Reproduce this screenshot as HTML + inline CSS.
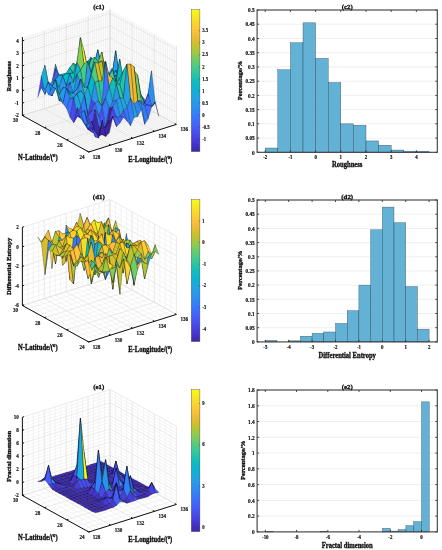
<!DOCTYPE html>
<html><head><meta charset="utf-8"><title>Figure</title><style>html,body{margin:0;padding:0;background:#fff}svg{display:block}</style></head><body><svg width="442" height="550" viewBox="0 0 442 550" font-family="Liberation Serif, serif" font-weight="bold" fill="#111"><style>text{stroke:#111;stroke-width:0.18px}.b text{stroke-width:0.32px}</style><polygon points="22.4,115.5 22.4,37.2 110,9.6 110,87.9" fill="#fff"/>
<polygon points="110,87.9 110,9.6 176.4,46.1 176.4,124.4" fill="#fff"/>
<polygon points="22.4,115.5 88.8,152 176.4,124.4 110,87.9" fill="#fff"/>
<path d="M22.4 115.5L22.4 37.2M22.4 115.5L88.8 152M24.6 114.8L24.6 36.5M24.6 114.8L91 151.3M26.8 114.1L26.8 35.8M26.8 114.1L93.2 150.6M28.9 113.5L28.9 35.2M28.9 113.5L95.4 149.9M31.1 112.8L31.1 34.5M31.1 112.8L97.6 149.2M33.3 112.1L33.3 33.8M33.3 112.1L99.7 148.6M35.5 111.4L35.5 33.1M35.5 111.4L101.9 147.9M37.7 110.7L37.7 32.4M37.7 110.7L104.1 147.2M39.9 110L39.9 31.7M39.9 110L106.3 146.5M42.1 109.3L42.1 31M42.1 109.3L108.5 145.8M44.3 108.6L44.3 30.3M44.3 108.6L110.7 145.1M46.5 107.9L46.5 29.6M46.5 107.9L112.9 144.4M48.7 107.2L48.7 28.9M48.7 107.2L115.1 143.7M50.8 106.6L50.8 28.3M50.8 106.6L117.3 143M53 105.9L53 27.6M53 105.9L119.5 142.3M55.2 105.2L55.2 26.9M55.2 105.2L121.6 141.7M57.4 104.5L57.4 26.2M57.4 104.5L123.8 141M59.6 103.8L59.6 25.5M59.6 103.8L126 140.3M61.8 103.1L61.8 24.8M61.8 103.1L128.2 139.6M64 102.4L64 24.1M64 102.4L130.4 138.9M66.2 101.7L66.2 23.4M66.2 101.7L132.6 138.2M68.4 101L68.4 22.7M68.4 101L134.8 137.5M70.6 100.3L70.6 22M70.6 100.3L137 136.8M72.7 99.7L72.7 21.4M72.7 99.7L139.2 136.1M74.9 99L74.9 20.7M74.9 99L141.4 135.4M77.1 98.3L77.1 20M77.1 98.3L143.5 134.8M79.3 97.6L79.3 19.3M79.3 97.6L145.7 134.1M81.5 96.9L81.5 18.6M81.5 96.9L147.9 133.4M83.7 96.2L83.7 17.9M83.7 96.2L150.1 132.7M85.9 95.5L85.9 17.2M85.9 95.5L152.3 132M88.1 94.8L88.1 16.5M88.1 94.8L154.5 131.3M90.3 94.1L90.3 15.8M90.3 94.1L156.7 130.6M92.5 93.4L92.5 15.1M92.5 93.4L158.9 129.9M94.6 92.8L94.6 14.5M94.6 92.8L161.1 129.2M96.8 92.1L96.8 13.8M96.8 92.1L163.3 128.5M99 91.4L99 13.1M99 91.4L165.4 127.9M101.2 90.7L101.2 12.4M101.2 90.7L167.6 127.2M103.4 90L103.4 11.7M103.4 90L169.8 126.5M105.6 89.3L105.6 11M105.6 89.3L172 125.8M107.8 88.6L107.8 10.3M107.8 88.6L174.2 125.1M110 87.9L110 9.6M110 87.9L176.4 124.4M176.4 124.4L176.4 46.1M88.8 152L176.4 124.4M174.2 123.2L174.2 44.9M86.6 150.8L174.2 123.2M172 122L172 43.7M84.4 149.6L172 122M169.8 120.8L169.8 42.5M82.2 148.4L169.8 120.8M167.5 119.5L167.5 41.2M79.9 147.1L167.5 119.5M165.3 118.3L165.3 40M77.7 145.9L165.3 118.3M163.1 117.1L163.1 38.8M75.5 144.7L163.1 117.1M160.9 115.9L160.9 37.6M73.3 143.5L160.9 115.9M158.7 114.7L158.7 36.4M71.1 142.3L158.7 114.7M156.5 113.5L156.5 35.2M68.9 141.1L156.5 113.5M154.3 112.2L154.3 33.9M66.7 139.8L154.3 112.2M152 111L152 32.7M64.4 138.6L152 111M149.8 109.8L149.8 31.5M62.2 137.4L149.8 109.8M147.6 108.6L147.6 30.3M60 136.2L147.6 108.6M145.4 107.4L145.4 29.1M57.8 135L145.4 107.4M143.2 106.2L143.2 27.9M55.6 133.8L143.2 106.2M141 104.9L141 26.6M53.4 132.5L141 104.9M138.8 103.7L138.8 25.4M51.2 131.3L138.8 103.7M136.5 102.5L136.5 24.2M48.9 130.1L136.5 102.5M134.3 101.3L134.3 23M46.7 128.9L134.3 101.3M132.1 100.1L132.1 21.8M44.5 127.7L132.1 100.1M129.9 98.9L129.9 20.6M42.3 126.5L129.9 98.9M127.7 97.6L127.7 19.3M40.1 125.2L127.7 97.6M125.5 96.4L125.5 18.1M37.9 124L125.5 96.4M123.3 95.2L123.3 16.9M35.7 122.8L123.3 95.2M121.1 94L121.1 15.7M33.5 121.6L121.1 94M118.8 92.8L118.8 14.5M31.2 120.4L118.8 92.8M116.6 91.6L116.6 13.3M29 119.2L116.6 91.6M114.4 90.4L114.4 12.1M26.8 118L114.4 90.4M112.2 89.1L112.2 10.8M24.6 116.7L112.2 89.1M110 87.9L110 9.6M22.4 115.5L110 87.9" stroke="#e2e2e2" stroke-width="0.45" fill="none"/>
<path d="M22.4 115.5L110 87.9M110 87.9L176.4 124.4M22.4 113L110 85.4M110 85.4L176.4 121.9M22.4 110.5L110 82.9M110 82.9L176.4 119.4M22.4 108.1L110 80.5M110 80.5L176.4 116.9M22.4 105.6L110 78M110 78L176.4 114.5M22.4 103.1L110 75.5M110 75.5L176.4 112M22.4 100.6L110 73M110 73L176.4 109.5M22.4 98.1L110 70.5M110 70.5L176.4 107M22.4 95.6L110 68M110 68L176.4 104.5M22.4 93.1L110 65.5M110 65.5L176.4 102M22.4 90.7L110 63.1M110 63.1L176.4 99.5M22.4 88.2L110 60.6M110 60.6L176.4 97.1M22.4 85.7L110 58.1M110 58.1L176.4 94.6M22.4 83.2L110 55.6M110 55.6L176.4 92.1M22.4 80.7L110 53.1M110 53.1L176.4 89.6M22.4 78.2L110 50.6M110 50.6L176.4 87.1M22.4 75.7L110 48.1M110 48.1L176.4 84.6M22.4 73.3L110 45.7M110 45.7L176.4 82.1M22.4 70.8L110 43.2M110 43.2L176.4 79.7M22.4 68.3L110 40.7M110 40.7L176.4 77.2M22.4 65.8L110 38.2M110 38.2L176.4 74.7M22.4 63.3L110 35.7M110 35.7L176.4 72.2M22.4 60.8L110 33.2M110 33.2L176.4 69.7M22.4 58.3L110 30.7M110 30.7L176.4 67.2M22.4 55.9L110 28.3M110 28.3L176.4 64.7M22.4 53.4L110 25.8M110 25.8L176.4 62.3M22.4 50.9L110 23.3M110 23.3L176.4 59.8M22.4 48.4L110 20.8M110 20.8L176.4 57.3M22.4 45.9L110 18.3M110 18.3L176.4 54.8M22.4 43.4L110 15.8M110 15.8L176.4 52.3M22.4 40.9L110 13.3M110 13.3L176.4 49.8M22.4 38.5L110 10.9M110 10.9L176.4 47.3" stroke="#ebebeb" stroke-width="0.4" fill="none"/>
<path d="M22.4 115.5L22.4 37.2M22.4 115.5L88.8 152M44.3 108.6L44.3 30.3M44.3 108.6L110.7 145.1M66.2 101.7L66.2 23.4M66.2 101.7L132.6 138.2M88.1 94.8L88.1 16.5M88.1 94.8L154.5 131.3M110 87.9L110 9.6M110 87.9L176.4 124.4M176.4 124.4L176.4 46.1M88.8 152L176.4 124.4M154.3 112.2L154.3 33.9M66.7 139.8L154.3 112.2M132.1 100.1L132.1 21.8M44.5 127.7L132.1 100.1M110 87.9L110 9.6M22.4 115.5L110 87.9M22.4 115.5L110 87.9M110 87.9L176.4 124.4M22.4 103.1L110 75.5M110 75.5L176.4 112M22.4 90.7L110 63.1M110 63.1L176.4 99.5M22.4 78.2L110 50.6M110 50.6L176.4 87.1M22.4 65.8L110 38.2M110 38.2L176.4 74.7M22.4 53.4L110 25.8M110 25.8L176.4 62.3M22.4 40.9L110 13.3M110 13.3L176.4 49.8" stroke="#d6d6d6" stroke-width="0.5" fill="none"/>
<g stroke="#000" stroke-width="0.3" stroke-opacity="0.85" stroke-linejoin="round"><polygon points="101.3,63.7 104.9,65.3 101.3,68.4 97.7,69.4" fill="#2e83f9"/><polygon points="97.8,49.8 101.3,63.7 97.7,69.4 94.2,67.3" fill="#2b92ee"/><polygon points="104.9,62.1 108.5,80.7 104.9,65.3 101.3,63.7" fill="#20a5e3"/><polygon points="94.3,64.4 97.8,49.8 94.2,67.3 90.7,70.4" fill="#2d89f5"/><polygon points="101.4,68.8 104.9,62.1 101.3,63.7 97.8,49.8" fill="#3eca8f"/><polygon points="90.8,71.2 94.3,64.4 90.7,70.4 87.2,73.2" fill="#2f81fa"/><polygon points="108.5,74.6 112.1,68.3 108.5,80.7 104.9,62.1" fill="#12b1d6"/><polygon points="97.9,82 101.4,68.8 97.8,49.8 94.3,64.4" fill="#1baade"/><polygon points="87.2,65.7 90.8,71.2 87.2,73.2 83.6,67.9" fill="#249ee6"/><polygon points="105,75.1 108.5,74.6 104.9,62.1 101.4,68.8" fill="#259ce7"/><polygon points="94.4,67.9 97.9,82 94.3,64.4 90.8,71.2" fill="#2a93ed"/><polygon points="83.7,71 87.2,65.7 83.6,67.9 80.1,56.6" fill="#26c2ad"/><polygon points="112.1,76.7 115.7,86.3 112.1,68.3 108.5,74.6" fill="#2e87f7"/><polygon points="101.5,64 105,75.1 101.4,68.8 97.9,82" fill="#4562fc"/><polygon points="90.8,73.5 94.4,67.9 90.8,71.2 87.2,65.7" fill="#18addb"/><polygon points="80.2,67.4 83.7,71 80.1,56.6 76.6,77.7" fill="#327bfc"/><polygon points="108.6,73.4 112.1,76.7 108.5,74.6 105,75.1" fill="#2d89f5"/><polygon points="97.9,70.6 101.5,64 97.9,82 94.4,67.9" fill="#1da9e0"/><polygon points="87.3,62.1 90.8,73.5 87.2,65.7 83.7,71" fill="#249de6"/><polygon points="76.6,80.6 80.2,67.4 76.6,77.7 73,76.2" fill="#2d88f6"/><polygon points="115.7,50.8 119.3,77.6 115.7,86.3 112.1,76.7" fill="#2e86f7"/><polygon points="105.1,75.6 108.6,73.4 105,75.1 101.5,64" fill="#01b8ca"/><polygon points="94.4,62.4 97.9,70.6 94.4,67.9 90.8,73.5" fill="#2797eb"/><polygon points="83.8,73.7 87.3,62.1 83.7,71 80.2,67.4" fill="#15afd8"/><polygon points="73.1,71.5 76.6,80.6 73,76.2 69.5,77.2" fill="#2d88f6"/><polygon points="112.2,74.3 115.7,50.8 112.1,76.7 108.6,73.4" fill="#269ae9"/><polygon points="101.5,69.6 105.1,75.6 101.5,64 97.9,70.6" fill="#1fa6e2"/><polygon points="90.9,57.4 94.4,62.4 90.8,73.5 87.3,62.1" fill="#16bfb7"/><polygon points="80.2,68.2 83.8,73.7 80.2,67.4 76.6,80.6" fill="#327cfc"/><polygon points="119.3,76.2 122.9,81.2 119.3,77.6 115.7,50.8" fill="#7fcc5a"/><polygon points="69.6,85 73.1,71.5 69.5,77.2 66,78.4" fill="#2d88f6"/><polygon points="108.7,76.3 112.2,74.3 108.6,73.4 105.1,75.6" fill="#2895ec"/><polygon points="98,69.1 101.5,69.6 97.9,70.6 94.4,62.4" fill="#1cc0b4"/><polygon points="87.4,74.2 90.9,57.4 87.3,62.1 83.8,73.7" fill="#249fe5"/><polygon points="76.7,82.3 80.2,68.2 76.6,80.6 73.1,71.5" fill="#1da9e0"/><polygon points="115.8,70.3 119.3,76.2 115.7,50.8 112.2,74.3" fill="#249ee6"/><polygon points="66.1,85.9 69.6,85 66,78.4 62.5,78.8" fill="#2d8bf4"/><polygon points="105.1,63.9 108.7,76.3 105.1,75.6 101.5,69.6" fill="#12b1d7"/><polygon points="94.5,70.8 98,69.1 94.4,62.4 90.9,57.4" fill="#46cb88"/><polygon points="83.8,58.5 87.4,74.2 83.8,73.7 80.2,68.2" fill="#04b6cd"/><polygon points="122.9,88.9 126.5,85.1 122.9,81.2 119.3,76.2" fill="#269ae9"/><polygon points="73.2,64.3 76.7,82.3 73.1,71.5 69.6,85" fill="#3d70ff"/><polygon points="112.3,75.9 115.8,70.3 112.2,74.3 108.7,76.3" fill="#269ae8"/><polygon points="62.5,80 66.1,85.9 62.5,78.8 58.9,74.4" fill="#21a3e4"/><polygon points="101.6,57.7 105.1,63.9 101.5,69.6 98,69.1" fill="#06b5cf"/><polygon points="91,75.2 94.5,70.8 90.9,57.4 87.4,74.2" fill="#20a5e2"/><polygon points="80.3,69.2 83.8,58.5 80.2,68.2 76.7,82.3" fill="#2e83f9"/><polygon points="119.4,82.3 122.9,88.9 119.3,76.2 115.8,70.3" fill="#0ab4d1"/><polygon points="69.7,78.4 73.2,64.3 69.6,85 66.1,85.9" fill="#3c72ff"/><polygon points="108.7,74.8 112.3,75.9 108.7,76.3 105.1,63.9" fill="#28c2ab"/><polygon points="59,82.3 62.5,80 58.9,74.4 55.4,64.2" fill="#26c2ac"/><polygon points="98.1,76.7 101.6,57.7 98,69.1 94.5,70.8" fill="#0bb4d2"/><polygon points="87.4,74.7 91,75.2 87.4,74.2 83.8,58.5" fill="#52cc7e"/><polygon points="126.5,90.9 130.1,80.5 126.5,85.1 122.9,88.9" fill="#4466fd"/><polygon points="76.8,65.1 80.3,69.2 76.7,82.3 73.2,64.3" fill="#2ac3a9"/><polygon points="115.9,75.7 119.4,82.3 115.8,70.3 112.3,75.9" fill="#20a4e3"/><polygon points="66.1,84.1 69.7,78.4 66.1,85.9 62.5,80" fill="#2994ed"/><polygon points="105.2,87.5 108.7,74.8 105.1,63.9 101.6,57.7" fill="#60cd72"/><polygon points="55.5,68.9 59,82.3 55.4,64.2 51.9,82.6" fill="#2d89f5"/><polygon points="94.6,69.1 98.1,76.7 94.5,70.8 91,75.2" fill="#1da9e0"/><polygon points="83.9,57.3 87.4,74.7 83.8,58.5 80.3,69.2" fill="#04bbc2"/><polygon points="123,84.6 126.5,90.9 122.9,88.9 119.4,82.3" fill="#2d8df2"/><polygon points="73.2,63.3 76.8,65.1 73.2,64.3 69.7,78.4" fill="#249ee6"/><polygon points="112.3,80.1 115.9,75.7 112.3,75.9 108.7,74.8" fill="#19addc"/><polygon points="62.6,74.1 66.1,84.1 62.5,80 59,82.3" fill="#2c8ef1"/><polygon points="101.7,78.2 105.2,87.5 101.6,57.7 98.1,76.7" fill="#1fa6e1"/><polygon points="51.9,95.9 55.5,68.9 51.9,82.6 48.3,83.8" fill="#2d89f5"/><polygon points="91,72.7 94.6,69.1 91,75.2 87.4,74.7" fill="#17aeda"/><polygon points="130.1,76.6 133.6,83.6 130.1,80.5 126.5,90.9" fill="#4466fd"/><polygon points="80.4,79 83.9,57.3 80.3,69.2 76.8,65.1" fill="#30c5a1"/><polygon points="119.5,78.3 123,84.6 119.4,82.3 115.9,75.7" fill="#19acdc"/><polygon points="69.7,67.8 73.2,63.3 69.7,78.4 66.1,84.1" fill="#2d8af4"/><polygon points="108.8,85.7 112.3,80.1 108.7,74.8 105.2,87.5" fill="#337afd"/><polygon points="59.1,75.1 62.6,74.1 59,82.3 55.5,68.9" fill="#18bfb6"/><polygon points="98.2,77.8 101.7,78.2 98.1,76.7 94.6,69.1" fill="#16bfb7"/><polygon points="48.4,83.5 51.9,95.9 48.3,83.8 44.8,65.1" fill="#34c79c"/><polygon points="87.5,68.3 91,72.7 87.4,74.7 83.9,57.3" fill="#85cb56"/><polygon points="126.6,94.5 130.1,76.6 126.5,90.9 123,84.6" fill="#2d8bf3"/><polygon points="76.8,70.4 80.4,79 76.8,65.1 73.2,63.3" fill="#42ca8b"/><polygon points="115.9,84.5 119.5,78.3 115.9,75.7 112.3,80.1" fill="#23a0e5"/><polygon points="66.2,73.5 69.7,67.8 66.1,84.1 62.6,74.1" fill="#06b5cf"/><polygon points="105.3,77.8 108.8,85.7 105.2,87.5 101.7,78.2" fill="#1da8e0"/><polygon points="55.5,79.7 59.1,75.1 55.5,68.9 51.9,95.9" fill="#4756f6"/><polygon points="94.6,62.4 98.2,77.8 94.6,69.1 91,72.7" fill="#01bac5"/><polygon points="133.7,94.2 137.2,92.3 133.6,83.6 130.1,76.6" fill="#15afd9"/><polygon points="44.9,94.3 48.4,83.5 44.8,65.1 41.3,76.1" fill="#12b1d7"/><polygon points="84,50.9 87.5,68.3 83.9,57.3 80.4,79" fill="#1ea7e1"/><polygon points="123.1,90.7 126.6,94.5 123,84.6 119.5,78.3" fill="#1baadf"/><polygon points="73.3,73.2 76.8,70.4 73.2,63.3 69.7,67.8" fill="#2ec4a4"/><polygon points="112.4,77.1 115.9,84.5 112.3,80.1 108.8,85.7" fill="#2d8df2"/><polygon points="62.7,75.9 66.2,73.5 62.6,74.1 59.1,75.1" fill="#06b5ce"/><polygon points="101.8,72.4 105.3,77.8 101.7,78.2 98.2,77.8" fill="#18aedb"/><polygon points="52,86.4 55.5,79.7 51.9,95.9 48.4,83.5" fill="#2798ea"/><polygon points="91.1,59.4 94.6,62.4 91,72.7 87.5,68.3" fill="#2ec5a4"/><polygon points="130.2,91.2 133.7,94.2 130.1,76.6 126.6,94.5" fill="#4563fd"/><polygon points="41.4,87.6 44.9,94.3 41.3,76.1 37.8,97.1" fill="#4757f7"/><polygon points="80.4,37.7 84,50.9 80.4,79 76.8,70.4" fill="#23c1af"/><polygon points="119.5,83.6 123.1,90.7 119.5,78.3 115.9,84.5" fill="#2895ec"/><polygon points="69.8,73.4 73.3,73.2 69.7,67.8 66.2,73.5" fill="#06bcc0"/><polygon points="108.9,81.2 112.4,77.1 108.8,85.7 105.3,77.8" fill="#13b0d7"/><polygon points="59.1,87.4 62.7,75.9 59.1,75.1 55.5,79.7" fill="#1babde"/><polygon points="98.2,70.8 101.8,72.4 98.2,77.8 94.6,62.4" fill="#68cd6b"/><polygon points="137.3,85.4 140.8,94.2 137.2,92.3 133.7,94.2" fill="#4269fe"/><polygon points="48.5,81.9 52,86.4 48.4,83.5 44.9,94.3" fill="#4368fe"/><polygon points="87.6,70.2 91.1,59.4 87.5,68.3 84,50.9" fill="#ebba31"/><polygon points="126.7,85 130.2,91.2 126.6,94.5 123.1,90.7" fill="#317dfc"/><polygon points="76.9,62.4 80.4,37.7 76.8,70.4 73.3,73.2" fill="#10beba"/><polygon points="116,82 119.5,83.6 115.9,84.5 112.4,77.1" fill="#06b5cf"/><polygon points="66.3,85.9 69.8,73.4 66.2,73.5 62.7,75.9" fill="#01b9c8"/><polygon points="105.4,70.6 108.9,81.2 105.3,77.8 101.8,72.4" fill="#1dc0b3"/><polygon points="55.6,85.8 59.1,87.4 55.5,79.7 52,86.4" fill="#2994ed"/><polygon points="94.7,57.2 98.2,70.8 94.6,62.4 91.1,59.4" fill="#9bc945"/><polygon points="133.8,92.9 137.3,85.4 133.7,94.2 130.2,91.2" fill="#307ffb"/><polygon points="45,89.5 48.5,81.9 44.9,94.3 41.4,87.6" fill="#2c90f0"/><polygon points="84,63.9 87.6,70.2 84,50.9 80.4,37.7" fill="#f9fa16"/><polygon points="123.1,96.4 126.7,85 123.1,90.7 119.5,83.6" fill="#22a2e4"/><polygon points="73.4,82.4 76.9,62.4 73.3,73.2 69.8,73.4" fill="#1bc0b4"/><polygon points="112.5,72.6 116,82 112.4,77.1 108.9,81.2" fill="#1aacdd"/><polygon points="62.7,96.6 66.3,85.9 62.7,75.9 59.1,87.4" fill="#2a93ed"/><polygon points="101.8,52.1 105.4,70.6 101.8,72.4 98.2,70.8" fill="#30c5a1"/><polygon points="140.9,97.7 144.4,99.1 140.8,94.2 137.3,85.4" fill="#259de7"/><polygon points="52.1,95.5 55.6,85.8 52,86.4 48.5,81.9" fill="#1baade"/><polygon points="91.2,71.7 94.7,57.2 91.1,59.4 87.6,70.2" fill="#34c79c"/><polygon points="130.3,86.7 133.8,92.9 130.2,91.2 126.7,85" fill="#239fe5"/><polygon points="80.5,70 84,63.9 80.4,37.7 76.9,62.4" fill="#87cb54"/><polygon points="119.6,97.5 123.1,96.4 119.5,83.6 116,82" fill="#1aacdd"/><polygon points="69.9,82.8 73.4,82.4 69.8,73.4 66.3,85.9" fill="#249de6"/><polygon points="108.9,85.8 112.5,72.6 108.9,81.2 105.4,70.6" fill="#35c799"/><polygon points="59.2,93.4 62.7,96.6 59.1,87.4 55.6,85.8" fill="#249fe6"/><polygon points="98.3,62.3 101.8,52.1 98.2,70.8 94.7,57.2" fill="#cbc129"/><polygon points="137.4,91.3 140.9,97.7 137.3,85.4 133.8,92.9" fill="#3080fa"/><polygon points="48.6,94.7 52.1,95.5 48.5,81.9 45,89.5" fill="#2c90f0"/><polygon points="87.6,61.3 91.2,71.7 87.6,70.2 84,63.9" fill="#7fcc5a"/><polygon points="126.7,78.1 130.3,86.7 126.7,85 123.1,96.4" fill="#3e6fff"/><polygon points="77,74.5 80.5,70 76.9,62.4 73.4,82.4" fill="#17aeda"/><polygon points="116.1,82 119.6,97.5 116,82 112.5,72.6" fill="#30c5a2"/><polygon points="66.3,96.3 69.9,82.8 66.3,85.9 62.7,96.6" fill="#3e70ff"/><polygon points="105.4,75.2 108.9,85.8 105.4,70.6 101.8,52.1" fill="#fcbc3d"/><polygon points="144.5,103.2 148,107.6 144.4,99.1 140.9,97.7" fill="#416cfe"/><polygon points="55.7,88.2 59.2,93.4 55.6,85.8 52.1,95.5" fill="#3777fe"/><polygon points="94.8,73.7 98.3,62.3 94.7,57.2 91.2,71.7" fill="#36c898"/><polygon points="133.9,90.3 137.4,91.3 133.8,92.9 130.3,86.7" fill="#23a1e5"/><polygon points="84.1,90.9 87.6,61.3 84,63.9 80.5,70" fill="#46cb88"/><polygon points="123.2,87.3 126.7,78.1 123.1,96.4 119.6,97.5" fill="#3e6fff"/><polygon points="73.5,94.5 77,74.5 73.4,82.4 69.9,82.8" fill="#13b0d7"/><polygon points="112.5,82 116.1,82 112.5,72.6 108.9,85.8" fill="#1fa6e2"/><polygon points="62.8,102.1 66.3,96.3 62.7,96.6 59.2,93.4" fill="#2e86f7"/><polygon points="101.9,61 105.4,75.2 101.8,52.1 98.3,62.3" fill="#a7c73c"/><polygon points="141,95.3 144.5,103.2 140.9,97.7 137.4,91.3" fill="#2b91ef"/><polygon points="52.1,87 55.7,88.2 52.1,95.5 48.6,94.7" fill="#2f81fa"/><polygon points="91.2,73.5 94.8,73.7 91.2,71.7 87.6,61.3" fill="#b6c532"/><polygon points="130.3,73.6 133.9,90.3 130.3,86.7 126.7,78.1" fill="#11beb9"/><polygon points="80.6,82.7 84.1,90.9 80.5,70 77,74.5" fill="#30c5a2"/><polygon points="119.7,59.2 123.2,87.3 119.6,97.5 116.1,82" fill="#05b6ce"/><polygon points="69.9,91.9 73.5,94.5 69.9,82.8 66.3,96.3" fill="#327cfc"/><polygon points="109,86.2 112.5,82 108.9,85.8 105.4,75.2" fill="#2ec4a4"/><polygon points="148.1,93.8 151.6,70.8 148,107.6 144.5,103.2" fill="#475af9"/><polygon points="59.3,100.8 62.8,102.1 59.2,93.4 55.7,88.2" fill="#22a1e4"/><polygon points="98.4,63.3 101.9,61 98.3,62.3 94.8,73.7" fill="#36c898"/><polygon points="137.5,75.1 141,95.3 137.4,91.3 133.9,90.3" fill="#269ae9"/><polygon points="87.7,88.2 91.2,73.5 87.6,61.3 84.1,90.9" fill="#2798ea"/><polygon points="126.8,80.5 130.3,73.6 126.7,78.1 123.2,87.3" fill="#1ea7e1"/><polygon points="77.1,89.1 80.6,82.7 77,74.5 73.5,94.5" fill="#2d89f5"/><polygon points="116.1,82.5 119.7,59.2 116.1,82 112.5,82" fill="#01b9c8"/><polygon points="66.4,89.2 69.9,91.9 66.3,96.3 62.8,102.1" fill="#4563fd"/><polygon points="105.5,83.4 109,86.2 105.4,75.2 101.9,61" fill="#ccc028"/><polygon points="144.6,103.6 148.1,93.8 144.5,103.2 141,95.3" fill="#2d87f7"/><polygon points="55.7,80.1 59.3,100.8 55.7,88.2 52.1,87" fill="#1baade"/><polygon points="94.8,62.4 98.4,63.3 94.8,73.7 91.2,73.5" fill="#40ca8e"/><polygon points="133.9,70.2 137.5,75.1 133.9,90.3 130.3,73.6" fill="#40ca8d"/><polygon points="84.2,87.3 87.7,88.2 84.1,90.9 80.6,82.7" fill="#01b9c8"/><polygon points="123.3,78.8 126.8,80.5 123.2,87.3 119.7,59.2" fill="#e3bc2c"/><polygon points="73.5,93 77.1,89.1 73.5,94.5 69.9,91.9" fill="#2699e9"/><polygon points="112.6,70 116.1,82.5 112.5,82 109,86.2" fill="#14b0d8"/><polygon points="151.7,106.8 155.2,103 151.6,70.8 148.1,93.8" fill="#2a92ee"/><polygon points="62.9,87.9 66.4,89.2 62.8,102.1 59.3,100.8" fill="#3e70ff"/><polygon points="102,81.2 105.5,83.4 101.9,61 98.4,63.3" fill="#c0c32d"/><polygon points="141.1,101 144.6,103.6 141,95.3 137.5,75.1" fill="#3bc992"/><polygon points="91.3,75.2 94.8,62.4 91.2,73.5 87.7,88.2" fill="#1baade"/><polygon points="130.4,86.5 133.9,70.2 130.3,73.6 126.8,80.5" fill="#19bfb5"/><polygon points="80.7,79.1 84.2,87.3 80.6,82.7 77.1,89.1" fill="#1da8e0"/><polygon points="119.7,78.4 123.3,78.8 119.7,59.2 116.1,82.5" fill="#06bcc0"/><polygon points="70,94.2 73.5,93 69.9,91.9 66.4,89.2" fill="#1da9e0"/><polygon points="109.1,75.8 112.6,70 109,86.2 105.5,83.4" fill="#02bac3"/><polygon points="148.2,105.2 151.7,106.8 148.1,93.8 144.6,103.6" fill="#4367fd"/><polygon points="59.3,94.8 62.9,87.9 59.3,100.8 55.7,80.1" fill="#23c1af"/><polygon points="98.4,80.9 102,81.2 98.4,63.3 94.8,62.4" fill="#d5be28"/><polygon points="137.5,100.7 141.1,101 137.5,75.1 133.9,70.2" fill="#7ccc5c"/><polygon points="87.8,87.4 91.3,75.2 87.7,88.2 84.2,87.3" fill="#11b1d6"/><polygon points="126.9,66.7 130.4,86.5 126.8,80.5 123.3,78.8" fill="#2ec5a3"/><polygon points="77.1,96.9 80.7,79.1 77.1,89.1 73.5,93" fill="#259de7"/><polygon points="116.2,85.1 119.7,78.4 116.1,82.5 112.6,70" fill="#85cb56"/><polygon points="155.3,101.8 158.8,116.2 155.2,103 151.7,106.8" fill="#475cfa"/><polygon points="66.5,88.1 70,94.2 66.4,89.2 62.9,87.9" fill="#12b1d6"/><polygon points="105.6,61.5 109.1,75.8 105.5,83.4 102,81.2" fill="#21c1b0"/><polygon points="144.6,105.5 148.2,105.2 144.6,103.6 141.1,101" fill="#337bfd"/><polygon points="94.9,82.4 98.4,80.9 94.8,62.4 91.3,75.2" fill="#4dcc82"/><polygon points="134,66.8 137.5,100.7 133.9,70.2 130.4,86.5" fill="#04b6cd"/><polygon points="84.3,94.6 87.8,87.4 84.2,87.3 80.7,79.1" fill="#32c69f"/><polygon points="123.3,70.8 126.9,66.7 123.3,78.8 119.7,78.4" fill="#36c899"/><polygon points="73.6,98.9 77.1,96.9 73.5,93 70,94.2" fill="#259de7"/><polygon points="112.7,78 116.2,85.1 112.6,70 109.1,75.8" fill="#4dcc82"/><polygon points="151.8,106.3 155.3,101.8 151.7,106.8 148.2,105.2" fill="#4269fe"/><polygon points="62.9,103.4 66.5,88.1 62.9,87.9 59.3,94.8" fill="#259be8"/><polygon points="102,105.9 105.6,61.5 102,81.2 98.4,80.9" fill="#2cc4a7"/><polygon points="141.1,103.5 144.6,105.5 141.1,101 137.5,100.7" fill="#2f82fa"/><polygon points="91.4,99.3 94.9,82.4 91.3,75.2 87.8,87.4" fill="#03b7cc"/><polygon points="130.5,64.2 134,66.8 130.4,86.5 126.9,66.7" fill="#c1c32c"/><polygon points="80.7,90.9 84.3,94.6 80.7,79.1 77.1,96.9" fill="#2995ec"/><polygon points="119.8,84.8 123.3,70.8 119.7,78.4 116.2,85.1" fill="#0abdbd"/><polygon points="70.1,98.4 73.6,98.9 70,94.2 66.5,88.1" fill="#04b6cd"/><polygon points="109.2,86.9 112.7,78 109.1,75.8 105.6,61.5" fill="#f4ba3a"/><polygon points="148.2,118.7 151.8,106.3 148.2,105.2 144.6,105.5" fill="#3f6dfe"/><polygon points="98.5,101 102,105.9 98.4,80.9 94.9,82.4" fill="#2ac3a9"/><polygon points="137.6,100.5 141.1,103.5 137.5,100.7 134,66.8" fill="#c8c129"/><polygon points="87.8,115.7 91.4,99.3 87.8,87.4 84.3,94.6" fill="#22a2e4"/><polygon points="126.9,64.1 130.5,64.2 126.9,66.7 123.3,70.8" fill="#9ec942"/><polygon points="77.2,93.7 80.7,90.9 77.1,96.9 73.6,98.9" fill="#2b91ef"/><polygon points="116.3,83.6 119.8,84.8 116.2,85.1 112.7,78" fill="#4acb84"/><polygon points="66.5,108.3 70.1,98.4 66.5,88.1 62.9,103.4" fill="#317dfc"/><polygon points="105.6,98.1 109.2,86.9 105.6,61.5 102,105.9" fill="#3d70ff"/><polygon points="144.7,124.3 148.2,118.7 144.6,105.5 141.1,103.5" fill="#317efb"/><polygon points="95,103.3 98.5,101 94.9,82.4 91.4,99.3" fill="#2b92ee"/><polygon points="134.1,104.7 137.6,100.5 134,66.8 130.5,64.2" fill="#ebba31"/><polygon points="84.3,95.3 87.8,115.7 84.3,94.6 80.7,90.9" fill="#0cb3d3"/><polygon points="123.4,98.1 126.9,64.1 123.3,70.8 119.8,84.8" fill="#23c1af"/><polygon points="73.7,97.9 77.2,93.7 73.6,98.9 70.1,98.4" fill="#2798ea"/><polygon points="112.8,101.6 116.3,83.6 112.7,78 109.2,86.9" fill="#0fbeba"/><polygon points="102.1,107.6 105.6,98.1 102,105.9 98.5,101" fill="#2c8ef1"/><polygon points="141.2,109.6 144.7,124.3 141.1,103.5 137.6,100.5" fill="#2b91ef"/><polygon points="91.4,111.2 95,103.3 91.4,99.3 87.8,115.7" fill="#4746eb"/><polygon points="130.5,98.1 134.1,104.7 130.5,64.2 126.9,64.1" fill="#f4ba3a"/><polygon points="80.8,106.5 84.3,95.3 80.7,90.9 77.2,93.7" fill="#18aedb"/><polygon points="119.9,98 123.4,98.1 119.8,84.8 116.3,83.6" fill="#31c6a0"/><polygon points="70.1,117.4 73.7,97.9 70.1,98.4 66.5,108.3" fill="#3f6dfe"/><polygon points="109.2,108.5 112.8,101.6 109.2,86.9 105.6,98.1" fill="#249ee6"/><polygon points="98.6,116.4 102.1,107.6 98.5,101 95,103.3" fill="#2d89f5"/><polygon points="137.7,116.7 141.2,109.6 137.6,100.5 134.1,104.7" fill="#2e83f9"/><polygon points="87.9,115.7 91.4,111.2 87.8,115.7 84.3,95.3" fill="#1babde"/><polygon points="127,107.7 130.5,98.1 126.9,64.1 123.4,98.1" fill="#23a1e5"/><polygon points="77.3,116.2 80.8,106.5 77.2,93.7 73.7,97.9" fill="#22a2e4"/><polygon points="116.4,100.4 119.9,98 116.3,83.6 112.8,101.6" fill="#2a93ed"/><polygon points="105.7,127.3 109.2,108.5 105.6,98.1 102.1,107.6" fill="#3678fe"/><polygon points="95,109.8 98.6,116.4 95,103.3 91.4,111.2" fill="#4466fd"/><polygon points="134.1,117.3 137.7,116.7 134.1,104.7 130.5,98.1" fill="#20a4e3"/><polygon points="84.4,120.7 87.9,115.7 84.3,95.3 80.8,106.5" fill="#3080fa"/><polygon points="123.5,110.4 127,107.7 123.4,98.1 119.9,98" fill="#1fa6e2"/><polygon points="73.7,122.7 77.3,116.2 73.7,97.9 70.1,117.4" fill="#484aee"/><polygon points="112.8,106.8 116.4,100.4 112.8,101.6 109.2,108.5" fill="#3677fe"/><polygon points="102.2,128.4 105.7,127.3 102.1,107.6 98.6,116.4" fill="#4851f3"/><polygon points="91.5,128.7 95,109.8 91.4,111.2 87.9,115.7" fill="#4755f6"/><polygon points="130.6,125.8 134.1,117.3 130.5,98.1 127,107.7" fill="#307ffb"/><polygon points="80.9,118.3 84.4,120.7 80.8,106.5 77.3,116.2" fill="#4854f5"/><polygon points="120,116.4 123.5,110.4 119.9,98 116.4,100.4" fill="#23a0e5"/><polygon points="109.3,121 112.8,106.8 109.2,108.5 105.7,127.3" fill="#3e27aa"/><polygon points="98.6,126.1 102.2,128.4 98.6,116.4 95,109.8" fill="#3678fd"/><polygon points="88,129.4 91.5,128.7 87.9,115.7 84.4,120.7" fill="#4743e7"/><polygon points="127.1,121.1 130.6,125.8 127,107.7 123.5,110.4" fill="#3777fe"/><polygon points="77.3,107.7 80.9,118.3 77.3,116.2 73.7,122.7" fill="#463adc"/><polygon points="116.4,117.3 120,116.4 116.4,100.4 112.8,106.8" fill="#2d8af5"/><polygon points="105.8,126.4 109.3,121 105.7,127.3 102.2,128.4" fill="#3e27aa"/><polygon points="95.1,130.6 98.6,126.1 95,109.8 91.5,128.7" fill="#3e27aa"/><polygon points="84.5,123.8 88,129.4 84.4,120.7 80.9,118.3" fill="#4854f5"/><polygon points="123.5,117.5 127.1,121.1 123.5,110.4 120,116.4" fill="#465efb"/><polygon points="112.9,117.3 116.4,117.3 112.8,106.8 109.3,121" fill="#4848ec"/><polygon points="102.2,131.5 105.8,126.4 102.2,128.4 98.6,126.1" fill="#4433cb"/><polygon points="91.6,131.8 95.1,130.6 91.5,128.7 88,129.4" fill="#3f28ae"/><polygon points="80.9,113.6 84.5,123.8 80.9,118.3 77.3,107.7" fill="#2c8ef1"/><polygon points="120,122.9 123.5,117.5 120,116.4 116.4,117.3" fill="#465ffb"/><polygon points="109.4,121.6 112.9,117.3 109.3,121 105.8,126.4" fill="#4435d1"/><polygon points="98.7,132.6 102.2,131.5 98.6,126.1 95.1,130.6" fill="#3e27aa"/><polygon points="88.1,124.7 91.6,131.8 88,129.4 84.5,123.8" fill="#4742e6"/><polygon points="116.5,126.7 120,122.9 116.4,117.3 112.9,117.3" fill="#4464fd"/><polygon points="105.8,133.5 109.4,121.6 105.8,126.4 102.2,131.5" fill="#3e27aa"/><polygon points="95.2,133.7 98.7,132.6 95.1,130.6 91.6,131.8" fill="#3e27aa"/><polygon points="84.5,110.3 88.1,124.7 84.5,123.8 80.9,113.6" fill="#327bfc"/><polygon points="113,116.3 116.5,126.7 112.9,117.3 109.4,121.6" fill="#4854f6"/><polygon points="102.3,134.6 105.8,133.5 102.2,131.5 98.7,132.6" fill="#3e27aa"/><polygon points="91.7,121.1 95.2,133.7 91.6,131.8 88.1,124.7" fill="#4848ec"/><polygon points="109.4,132.5 113,116.3 109.4,121.6 105.8,133.5" fill="#3e27aa"/><polygon points="98.8,135.7 102.3,134.6 98.7,132.6 95.2,133.7" fill="#3e27aa"/><polygon points="88.1,129.5 91.7,121.1 88.1,124.7 84.5,110.3" fill="#2994ed"/><polygon points="105.9,136.6 109.4,132.5 105.8,133.5 102.3,134.6" fill="#3e27aa"/><polygon points="95.3,136.8 98.8,135.7 95.2,133.7 91.7,121.1" fill="#4563fc"/><polygon points="102.4,120.3 105.9,136.6 102.3,134.6 98.8,135.7" fill="#3e27aa"/><polygon points="91.7,127.4 95.3,136.8 91.7,121.1 88.1,129.5" fill="#473fe3"/><polygon points="98.9,137.9 102.4,120.3 98.8,135.7 95.3,136.8" fill="#3e27aa"/><polygon points="95.3,131.4 98.9,137.9 95.3,136.8 91.7,127.4" fill="#4853f5"/></g>
<text transform="translate(96.6 159) scale(0.85 1)" font-size="6.0" text-anchor="middle" >128</text>
<text transform="translate(118.5 152.1) scale(0.85 1)" font-size="6.0" text-anchor="middle" >130</text>
<text transform="translate(140.4 145.2) scale(0.85 1)" font-size="6.0" text-anchor="middle" >132</text>
<text transform="translate(162.3 138.3) scale(0.85 1)" font-size="6.0" text-anchor="middle" >134</text>
<text transform="translate(184.2 131.4) scale(0.85 1)" font-size="6.0" text-anchor="middle" >136</text>
<text transform="translate(82 158.8) scale(0.85 1)" font-size="6.0" text-anchor="middle" >24</text>
<text transform="translate(59.9 146.6) scale(0.85 1)" font-size="6.0" text-anchor="middle" >26</text>
<text transform="translate(37.7 134.5) scale(0.85 1)" font-size="6.0" text-anchor="middle" >28</text>
<text transform="translate(15.6 122.3) scale(0.85 1)" font-size="6.0" text-anchor="middle" >30</text>
<text transform="translate(18.9 117.4) scale(0.85 1)" font-size="6.0" text-anchor="end" >-2</text>
<text transform="translate(18.9 105) scale(0.85 1)" font-size="6.0" text-anchor="end" >-1</text>
<text transform="translate(18.9 92.6) scale(0.85 1)" font-size="6.0" text-anchor="end" >0</text>
<text transform="translate(18.9 80.1) scale(0.85 1)" font-size="6.0" text-anchor="end" >1</text>
<text transform="translate(18.9 67.7) scale(0.85 1)" font-size="6.0" text-anchor="end" >2</text>
<text transform="translate(18.9 55.3) scale(0.85 1)" font-size="6.0" text-anchor="end" >3</text>
<text transform="translate(18.9 42.8) scale(0.85 1)" font-size="6.0" text-anchor="end" >4</text>
<path d="M22.4 115.5L22.4 37.2M22.4 115.5L88.8 152M88.8 152L176.4 124.4M88.8 152L87.2 151.1M110.7 145.1L109.1 144.2M132.6 138.2L131 137.3M154.5 131.3L152.9 130.4M176.4 124.4L174.8 123.5M88.8 152L90.5 151.4M66.7 139.8L68.4 139.3M44.5 127.7L46.2 127.1M22.4 115.5L24.1 115M22.4 115.5L24.1 115M22.4 103.1L24.1 102.5M22.4 90.7L24.1 90.1M22.4 78.2L24.1 77.7M22.4 65.8L24.1 65.3M22.4 53.4L24.1 52.8M22.4 40.9L24.1 40.4" stroke="#111" stroke-width="1" fill="none"/>
<g class="b"><text transform="translate(37.8 160) scale(0.88 1)" font-size="7.5" text-anchor="middle" >N-Latitude/(<tspan font-size="5.4" dy="-2.7">o</tspan><tspan dy="2.7">)</tspan></text></g>
<g class="b"><text transform="translate(150.2 161.9) scale(0.88 1)" font-size="7.5" text-anchor="middle" >E-Longitude/(<tspan font-size="5.4" dy="-2.7">o</tspan><tspan dy="2.7">)</tspan></text></g>
<g class="b"><text transform="translate(10.9 76.4) rotate(-90) scale(1 1)" font-size="6.6" text-anchor="middle">Roughness</text></g>
<g class="b"><text x="98.8" y="8.9" font-size="6.9" text-anchor="middle" >(c1)</text></g>
<linearGradient id="cb1" x1="0" y1="0" x2="0" y2="1"><stop offset="0%" stop-color="#f9fb15"/><stop offset="6.2%" stop-color="#f5e327"/><stop offset="12.5%" stop-color="#feca33"/><stop offset="18.8%" stop-color="#f1ba37"/><stop offset="25%" stop-color="#c8c129"/><stop offset="31.2%" stop-color="#94ca4a"/><stop offset="37.5%" stop-color="#5ccc76"/><stop offset="43.8%" stop-color="#34c79c"/><stop offset="50%" stop-color="#12beb9"/><stop offset="56.2%" stop-color="#0cb3d3"/><stop offset="62.5%" stop-color="#21a3e3"/><stop offset="68.8%" stop-color="#2c90f0"/><stop offset="75%" stop-color="#347afd"/><stop offset="81.2%" stop-color="#4562fc"/><stop offset="87.5%" stop-color="#484cef"/><stop offset="93.8%" stop-color="#4536d5"/><stop offset="100%" stop-color="#3e26a8"/></linearGradient>
<rect x="191.3" y="9.7" width="8.6" height="141.9" fill="url(#cb1)" stroke="#444" stroke-width="0.4"/>
<line x1="198.7" y1="139.3" x2="199.9" y2="139.3" stroke="#333" stroke-width="0.4" />
<text transform="translate(202.2 140.9) scale(0.79 1)" font-size="5.9" text-anchor="start" >-1</text>
<line x1="198.7" y1="127.2" x2="199.9" y2="127.2" stroke="#333" stroke-width="0.4" />
<text transform="translate(202.2 128.8) scale(0.79 1)" font-size="5.9" text-anchor="start" >-0.5</text>
<line x1="198.7" y1="115.2" x2="199.9" y2="115.2" stroke="#333" stroke-width="0.4" />
<text transform="translate(202.2 116.8) scale(0.79 1)" font-size="5.9" text-anchor="start" >0</text>
<line x1="198.7" y1="103.1" x2="199.9" y2="103.1" stroke="#333" stroke-width="0.4" />
<text transform="translate(202.2 104.7) scale(0.79 1)" font-size="5.9" text-anchor="start" >0.5</text>
<line x1="198.7" y1="91" x2="199.9" y2="91" stroke="#333" stroke-width="0.4" />
<text transform="translate(202.2 92.6) scale(0.79 1)" font-size="5.9" text-anchor="start" >1</text>
<line x1="198.7" y1="79" x2="199.9" y2="79" stroke="#333" stroke-width="0.4" />
<text transform="translate(202.2 80.6) scale(0.79 1)" font-size="5.9" text-anchor="start" >1.5</text>
<line x1="198.7" y1="66.9" x2="199.9" y2="66.9" stroke="#333" stroke-width="0.4" />
<text transform="translate(202.2 68.5) scale(0.79 1)" font-size="5.9" text-anchor="start" >2</text>
<line x1="198.7" y1="54.8" x2="199.9" y2="54.8" stroke="#333" stroke-width="0.4" />
<text transform="translate(202.2 56.4) scale(0.79 1)" font-size="5.9" text-anchor="start" >2.5</text>
<line x1="198.7" y1="42.8" x2="199.9" y2="42.8" stroke="#333" stroke-width="0.4" />
<text transform="translate(202.2 44.4) scale(0.79 1)" font-size="5.9" text-anchor="start" >3</text>
<line x1="198.7" y1="30.7" x2="199.9" y2="30.7" stroke="#333" stroke-width="0.4" />
<text transform="translate(202.2 32.3) scale(0.79 1)" font-size="5.9" text-anchor="start" >3.5</text>
<polygon points="22.4,305.5 22.4,227.2 110,199.6 110,277.9" fill="#fff"/>
<polygon points="110,277.9 110,199.6 176.4,236.1 176.4,314.4" fill="#fff"/>
<polygon points="22.4,305.5 88.8,342 176.4,314.4 110,277.9" fill="#fff"/>
<path d="M22.4 305.5L22.4 227.2M22.4 305.5L88.8 342M27.9 303.8L27.9 225.5M27.9 303.8L94.3 340.3M33.3 302.1L33.3 223.8M33.3 302.1L99.8 338.6M38.8 300.3L38.8 222M38.8 300.3L105.2 336.8M44.3 298.6L44.3 220.3M44.3 298.6L110.7 335.1M49.8 296.9L49.8 218.6M49.8 296.9L116.2 333.4M55.2 295.2L55.2 216.9M55.2 295.2L121.6 331.6M60.7 293.4L60.7 215.1M60.7 293.4L127.1 329.9M66.2 291.7L66.2 213.4M66.2 291.7L132.6 328.2M71.7 290L71.7 211.7M71.7 290L138.1 326.5M77.1 288.3L77.1 210M77.1 288.3L143.6 324.8M82.6 286.5L82.6 208.2M82.6 286.5L149 323M88.1 284.8L88.1 206.5M88.1 284.8L154.5 321.3M93.6 283.1L93.6 204.8M93.6 283.1L160 319.6M99 281.4L99 203.1M99 281.4L165.4 317.9M104.5 279.6L104.5 201.3M104.5 279.6L170.9 316.1M110 277.9L110 199.6M110 277.9L176.4 314.4M176.4 314.4L176.4 236.1M88.8 342L176.4 314.4M170.9 311.4L170.9 233.1M83.3 339L170.9 311.4M165.3 308.3L165.3 230M77.7 335.9L165.3 308.3M159.8 305.3L159.8 227M72.2 332.9L159.8 305.3M154.3 302.2L154.3 223.9M66.7 329.8L154.3 302.2M148.7 299.2L148.7 220.9M61.1 326.8L148.7 299.2M143.2 296.2L143.2 217.9M55.6 323.8L143.2 296.2M137.7 293.1L137.7 214.8M50.1 320.7L137.7 293.1M132.1 290.1L132.1 211.8M44.5 317.7L132.1 290.1M126.6 287L126.6 208.7M39 314.6L126.6 287M121 284L121 205.7M33.4 311.6L121 284M115.5 281L115.5 202.7M27.9 308.6L115.5 281M110 277.9L110 199.6M22.4 305.5L110 277.9" stroke="#e7e7e7" stroke-width="0.45" fill="none"/>
<path d="M22.4 305.5L110 277.9M110 277.9L176.4 314.4M22.4 300.6L110 273M110 273L176.4 309.5M22.4 295.7L110 268.1M110 268.1L176.4 304.6M22.4 290.8L110 263.2M110 263.2L176.4 299.7M22.4 285.9L110 258.3M110 258.3L176.4 294.8M22.4 281.1L110 253.5M110 253.5L176.4 289.9M22.4 276.2L110 248.6M110 248.6L176.4 285M22.4 271.3L110 243.7M110 243.7L176.4 280.1M22.4 266.4L110 238.8M110 238.8L176.4 275.2M22.4 261.5L110 233.9M110 233.9L176.4 270.4M22.4 256.6L110 229M110 229L176.4 265.5M22.4 251.7L110 224.1M110 224.1L176.4 260.6M22.4 246.8L110 219.2M110 219.2L176.4 255.7M22.4 241.9L110 214.3M110 214.3L176.4 250.8M22.4 237L110 209.4M110 209.4L176.4 245.9M22.4 232.1L110 204.5M110 204.5L176.4 241M22.4 227.2L110 199.6M110 199.6L176.4 236.1" stroke="#e7e7e7" stroke-width="0.4" fill="none"/>
<path d="M22.4 305.5L22.4 227.2M22.4 305.5L88.8 342M44.3 298.6L44.3 220.3M44.3 298.6L110.7 335.1M66.2 291.7L66.2 213.4M66.2 291.7L132.6 328.2M88.1 284.8L88.1 206.5M88.1 284.8L154.5 321.3M110 277.9L110 199.6M110 277.9L176.4 314.4M176.4 314.4L176.4 236.1M88.8 342L176.4 314.4M154.3 302.2L154.3 223.9M66.7 329.8L154.3 302.2M132.1 290.1L132.1 211.8M44.5 317.7L132.1 290.1M110 277.9L110 199.6M22.4 305.5L110 277.9M22.4 305.5L110 277.9M110 277.9L176.4 314.4M22.4 285.9L110 258.3M110 258.3L176.4 294.8M22.4 266.4L110 238.8M110 238.8L176.4 275.2M22.4 246.8L110 219.2M110 219.2L176.4 255.7M22.4 227.2L110 199.6M110 199.6L176.4 236.1" stroke="#e0e0e0" stroke-width="0.5" fill="none"/>
<g stroke="#000" stroke-width="0.3" stroke-opacity="0.85" stroke-linejoin="round"><polygon points="101.3,229.8 104.9,222.8 101.3,224.7 97.7,222.3" fill="#d6be28"/><polygon points="97.8,225.7 101.3,229.8 97.7,222.3 94.2,222.6" fill="#dfbc2a"/><polygon points="104.9,224.1 108.5,233.7 104.9,222.8 101.3,229.8" fill="#90ca4d"/><polygon points="94.3,246.6 97.8,225.7 94.2,222.6 90.7,225.1" fill="#d0c027"/><polygon points="101.4,235.5 104.9,224.1 101.3,229.8 97.8,225.7" fill="#d3bf27"/><polygon points="90.8,227.5 94.3,246.6 90.7,225.1 87.2,225.6" fill="#d6be28"/><polygon points="108.5,217.9 112.1,250.4 108.5,233.7 104.9,224.1" fill="#ecba32"/><polygon points="97.9,237 101.4,235.5 97.8,225.7 94.3,246.6" fill="#02b7cb"/><polygon points="87.2,217.6 90.8,227.5 87.2,225.6 83.6,225.7" fill="#e1bc2b"/><polygon points="105,227 108.5,217.9 104.9,224.1 101.4,235.5" fill="#6acd6a"/><polygon points="94.4,254.3 97.9,237 94.3,246.6 90.8,227.5" fill="#d8be28"/><polygon points="83.7,226 87.2,217.6 83.6,225.7 80.1,213.4" fill="#f9f916"/><polygon points="112.1,232.2 115.7,220.7 112.1,250.4 108.5,217.9" fill="#f6e028"/><polygon points="101.5,234.8 105,227 101.4,235.5 97.9,237" fill="#65cd6e"/><polygon points="90.8,226.9 94.4,254.3 90.8,227.5 87.2,217.6" fill="#f5e526"/><polygon points="80.2,234.2 83.7,226 80.1,213.4 76.6,228.9" fill="#d7be28"/><polygon points="108.6,224.8 112.1,232.2 108.5,217.9 105,227" fill="#edba34"/><polygon points="97.9,222.8 101.5,234.8 97.9,237 94.4,254.3" fill="#1fa6e2"/><polygon points="87.3,239.5 90.8,226.9 87.2,217.6 83.7,226" fill="#fabb3d"/><polygon points="76.6,222.4 80.2,234.2 76.6,228.9 73,233.3" fill="#b0c636"/><polygon points="115.7,227.7 119.3,232.3 115.7,220.7 112.1,232.2" fill="#bfc32d"/><polygon points="105.1,255.1 108.6,224.8 105,227 101.5,234.8" fill="#a1c840"/><polygon points="94.4,219.9 97.9,222.8 94.4,254.3 90.8,226.9" fill="#f9bb3d"/><polygon points="83.8,266.2 87.3,239.5 83.7,226 80.2,234.2" fill="#b0c636"/><polygon points="73.1,229.6 76.6,222.4 73,233.3 69.5,228.3" fill="#f2ba38"/><polygon points="112.2,253.9 115.7,227.7 112.1,232.2 108.6,224.8" fill="#fec834"/><polygon points="101.5,221.8 105.1,255.1 101.5,234.8 97.9,222.8" fill="#f9d62d"/><polygon points="90.9,223.6 94.4,219.9 90.8,226.9 87.3,239.5" fill="#71cd64"/><polygon points="80.2,230.2 83.8,266.2 80.2,234.2 76.6,222.4" fill="#f7dc2a"/><polygon points="119.3,229.8 122.9,250.7 119.3,232.3 115.7,227.7" fill="#fdbd3d"/><polygon points="69.6,234.4 73.1,229.6 69.5,228.3 66,225" fill="#fdcd31"/><polygon points="108.7,235.7 112.2,253.9 108.6,224.8 105.1,255.1" fill="#17aeda"/><polygon points="98,234.1 101.5,221.8 97.9,222.8 94.4,219.9" fill="#f6ef20"/><polygon points="87.4,229.2 90.9,223.6 87.3,239.5 83.8,266.2" fill="#337afd"/><polygon points="76.7,241 80.2,230.2 76.6,222.4 73.1,229.6" fill="#f8ba3d"/><polygon points="115.8,232.2 119.3,229.8 115.7,227.7 112.2,253.9" fill="#06b5cf"/><polygon points="66.1,261.2 69.6,234.4 66,225 62.5,265.4" fill="#2f82fa"/><polygon points="105.1,233.2 108.7,235.7 105.1,255.1 101.5,221.8" fill="#f5e924"/><polygon points="94.5,232.2 98,234.1 94.4,219.9 90.9,223.6" fill="#f6df29"/><polygon points="83.8,234.9 87.4,229.2 83.8,266.2 80.2,230.2" fill="#f9bb3d"/><polygon points="122.9,265.4 126.5,233.7 122.9,250.7 119.3,229.8" fill="#fdbd3d"/><polygon points="73.2,256.5 76.7,241 73.1,229.6 69.6,234.4" fill="#d5be28"/><polygon points="112.3,230.2 115.8,232.2 112.2,253.9 108.7,235.7" fill="#c7c129"/><polygon points="62.5,234 66.1,261.2 62.5,265.4 58.9,234.3" fill="#d9be28"/><polygon points="101.6,263 105.1,233.2 101.5,221.8 98,234.1" fill="#dcbd29"/><polygon points="91,231.2 94.5,232.2 90.9,223.6 87.4,229.2" fill="#fec438"/><polygon points="80.3,232.2 83.8,234.9 80.2,230.2 76.7,241" fill="#8bcb51"/><polygon points="119.4,234.7 122.9,265.4 119.3,229.8 115.8,232.2" fill="#f4ba39"/><polygon points="69.7,233.4 73.2,256.5 69.6,234.4 66.1,261.2" fill="#23a1e4"/><polygon points="108.7,235.4 112.3,230.2 108.7,235.7 105.1,233.2" fill="#eeba34"/><polygon points="59,230.8 62.5,234 58.9,234.3 55.4,236.9" fill="#c9c129"/><polygon points="98.1,236.1 101.6,263 98,234.1 94.5,232.2" fill="#f8ba3d"/><polygon points="87.4,233.6 91,231.2 87.4,229.2 83.8,234.9" fill="#e2bc2b"/><polygon points="126.5,240.2 130.1,252.4 126.5,233.7 122.9,265.4" fill="#2b90f0"/><polygon points="76.8,226.3 80.3,232.2 76.7,241 73.2,256.5" fill="#03b7cc"/><polygon points="115.9,242 119.4,234.7 115.8,232.2 112.3,230.2" fill="#fec736"/><polygon points="66.1,233.2 69.7,233.4 66.1,261.2 62.5,234" fill="#efba35"/><polygon points="105.2,237.1 108.7,235.4 105.1,233.2 101.6,263" fill="#249ee6"/><polygon points="55.5,231.5 59,230.8 55.4,236.9 51.9,268.6" fill="#2e83f9"/><polygon points="94.6,234.2 98.1,236.1 94.5,232.2 91,231.2" fill="#fec438"/><polygon points="83.9,231.9 87.4,233.6 83.8,234.9 80.3,232.2" fill="#febf3b"/><polygon points="123,242.2 126.5,240.2 122.9,265.4 119.4,234.7" fill="#f0ba36"/><polygon points="73.2,230.4 76.8,226.3 73.2,256.5 69.7,233.4" fill="#fabb3d"/><polygon points="112.3,242.3 115.9,242 112.3,230.2 108.7,235.4" fill="#ebba31"/><polygon points="62.6,258.2 66.1,233.2 62.5,234 59,230.8" fill="#fdca33"/><polygon points="101.7,273 105.2,237.1 101.6,263 98.1,236.1" fill="#e7bb2e"/><polygon points="51.9,242.3 55.5,231.5 51.9,268.6 48.3,230" fill="#fcd12f"/><polygon points="91,229.7 94.6,234.2 91,231.2 87.4,233.6" fill="#fdbd3d"/><polygon points="130.1,240.2 133.6,260.5 130.1,252.4 126.5,240.2" fill="#bec32e"/><polygon points="80.4,227.5 83.9,231.9 80.3,232.2 76.8,226.3" fill="#f5ea24"/><polygon points="119.5,236.6 123,242.2 119.4,234.7 115.9,242" fill="#aac73a"/><polygon points="69.7,232.6 73.2,230.4 69.7,233.4 66.1,233.2" fill="#fec139"/><polygon points="108.8,235.1 112.3,242.3 108.7,235.4 105.2,237.1" fill="#e6bb2d"/><polygon points="59.1,237.1 62.6,258.2 59,230.8 55.5,231.5" fill="#fdcd32"/><polygon points="98.2,239.3 101.7,273 98.1,236.1 94.6,234.2" fill="#febe3c"/><polygon points="48.4,242.1 51.9,242.3 48.3,230 44.8,236.2" fill="#f2ba37"/><polygon points="87.5,234.2 91,229.7 87.4,233.6 83.9,231.9" fill="#fdcd32"/><polygon points="126.6,248.3 130.1,240.2 126.5,240.2 123,242.2" fill="#b3c534"/><polygon points="76.8,231.4 80.4,227.5 76.8,226.3 73.2,230.4" fill="#f9d82c"/><polygon points="115.9,241.3 119.5,236.6 115.9,242 112.3,242.3" fill="#b4c533"/><polygon points="66.2,238.7 69.7,232.6 66.1,233.2 62.6,258.2" fill="#04bbc2"/><polygon points="105.3,232.6 108.8,235.1 105.2,237.1 101.7,273" fill="#337afd"/><polygon points="55.5,263.8 59.1,237.1 55.5,231.5 51.9,242.3" fill="#b9c430"/><polygon points="94.6,243.8 98.2,239.3 94.6,234.2 91,229.7" fill="#f6e028"/><polygon points="133.7,245.2 137.2,242.8 133.6,260.5 130.1,240.2" fill="#d5be28"/><polygon points="44.9,237.3 48.4,242.1 44.8,236.2 41.3,242" fill="#c1c32c"/><polygon points="84,234.7 87.5,234.2 83.9,231.9 80.4,227.5" fill="#f6ef20"/><polygon points="123.1,265.4 126.6,248.3 123,242.2 119.5,236.6" fill="#f9ba3d"/><polygon points="73.3,247.3 76.8,231.4 73.2,230.4 69.7,232.6" fill="#fcd030"/><polygon points="112.4,234.7 115.9,241.3 112.3,242.3 108.8,235.1" fill="#fec339"/><polygon points="62.7,240.3 66.2,238.7 62.6,258.2 59.1,237.1" fill="#f8ba3d"/><polygon points="101.8,268.3 105.3,232.6 101.7,273 98.2,239.3" fill="#e6bb2d"/><polygon points="52,241.9 55.5,263.8 51.9,242.3 48.4,242.1" fill="#c9c129"/><polygon points="91.1,236.1 94.6,243.8 91,229.7 87.5,234.2" fill="#fdcb33"/><polygon points="130.2,247.3 133.7,245.2 130.1,240.2 126.6,248.3" fill="#79cc5e"/><polygon points="41.4,243.1 44.9,237.3 41.3,242 37.8,237.1" fill="#fbbc3d"/><polygon points="80.4,241 84,234.7 80.4,227.5 76.8,231.4" fill="#f6dd29"/><polygon points="119.5,244.6 123.1,265.4 119.5,236.6 115.9,241.3" fill="#d8be28"/><polygon points="69.8,237.8 73.3,247.3 69.7,232.6 66.2,238.7" fill="#f2ba38"/><polygon points="108.9,272.1 112.4,234.7 108.8,235.1 105.3,232.6" fill="#f8d82c"/><polygon points="59.1,240.6 62.7,240.3 59.1,237.1 55.5,263.8" fill="#12b1d7"/><polygon points="98.2,272.1 101.8,268.3 98.2,239.3 94.6,243.8" fill="#c1c32c"/><polygon points="137.3,241.2 140.8,240.2 137.2,242.8 133.7,245.2" fill="#b0c636"/><polygon points="48.5,240.3 52,241.9 48.4,242.1 44.9,237.3" fill="#febe3c"/><polygon points="87.6,246.3 91.1,236.1 87.5,234.2 84,234.7" fill="#fccf31"/><polygon points="126.7,242.9 130.2,247.3 126.6,248.3 123.1,265.4" fill="#19addc"/><polygon points="76.9,243.5 80.4,241 76.8,231.4 73.3,247.3" fill="#99c946"/><polygon points="116,243.5 119.5,244.6 115.9,241.3 112.4,234.7" fill="#fcd030"/><polygon points="66.3,235.2 69.8,237.8 66.2,238.7 62.7,240.3" fill="#eeba34"/><polygon points="105.4,279.4 108.9,272.1 105.3,232.6 101.8,268.3" fill="#22a2e4"/><polygon points="55.6,248.2 59.1,240.6 55.5,263.8 52,241.9" fill="#e1bc2b"/><polygon points="94.7,241.5 98.2,272.1 94.6,243.8 91.1,236.1" fill="#fdcb33"/><polygon points="133.8,243.1 137.3,241.2 133.7,245.2 130.2,247.3" fill="#a4c83e"/><polygon points="45,274.7 48.5,240.3 44.9,237.3 41.4,243.1" fill="#d7be28"/><polygon points="84,253.8 87.6,246.3 84,234.7 80.4,241" fill="#edba33"/><polygon points="123.1,273.1 126.7,242.9 123.1,265.4 119.5,244.6" fill="#cac129"/><polygon points="73.4,238.1 76.9,243.5 73.3,247.3 69.8,237.8" fill="#fec437"/><polygon points="112.5,246 116,243.5 112.4,234.7 108.9,272.1" fill="#2994ed"/><polygon points="62.7,247.1 66.3,235.2 62.7,240.3 59.1,240.6" fill="#f5ba3a"/><polygon points="101.8,233.9 105.4,279.4 101.8,268.3 98.2,272.1" fill="#2896ec"/><polygon points="140.9,247.6 144.4,249.2 140.8,240.2 137.3,241.2" fill="#f2ba38"/><polygon points="52.1,244.4 55.6,248.2 52,241.9 48.5,240.3" fill="#f9bb3d"/><polygon points="91.2,235.5 94.7,241.5 91.1,236.1 87.6,246.3" fill="#bdc32e"/><polygon points="130.3,246.2 133.8,243.1 130.2,247.3 126.7,242.9" fill="#e5bb2c"/><polygon points="80.5,250.1 84,253.8 80.4,241 76.9,243.5" fill="#e0bc2a"/><polygon points="119.6,245.3 123.1,273.1 119.5,244.6 116,243.5" fill="#e1bc2b"/><polygon points="69.9,279.2 73.4,238.1 69.8,237.8 66.3,235.2" fill="#f8da2b"/><polygon points="108.9,249.3 112.5,246 108.9,272.1 105.4,279.4" fill="#3b72ff"/><polygon points="59.2,247.3 62.7,247.1 59.1,240.6 55.6,248.2" fill="#aec637"/><polygon points="98.3,239.6 101.8,233.9 98.2,272.1 94.7,241.5" fill="#f7ba3c"/><polygon points="137.4,246.1 140.9,247.6 137.3,241.2 133.8,243.1" fill="#eaba31"/><polygon points="48.6,250 52.1,244.4 48.5,240.3 45,274.7" fill="#2c8ff1"/><polygon points="87.6,270.1 91.2,235.5 87.6,246.3 84,253.8" fill="#65cd6e"/><polygon points="126.7,249.3 130.3,246.2 126.7,242.9 123.1,273.1" fill="#2798ea"/><polygon points="77,235.7 80.5,250.1 76.9,243.5 73.4,238.1" fill="#fdce31"/><polygon points="116.1,247.7 119.6,245.3 116,243.5 112.5,246" fill="#d3bf27"/><polygon points="66.3,244.4 69.9,279.2 66.3,235.2 62.7,247.1" fill="#c7c129"/><polygon points="105.4,248 108.9,249.3 105.4,279.4 101.8,233.9" fill="#f5ea23"/><polygon points="144.5,240.8 148,245.2 144.4,249.2 140.9,247.6" fill="#c4c22b"/><polygon points="55.7,244.6 59.2,247.3 55.6,248.2 52.1,244.4" fill="#e7bb2e"/><polygon points="94.8,244.4 98.3,239.6 94.7,241.5 91.2,235.5" fill="#f5e227"/><polygon points="133.9,245.2 137.4,246.1 133.8,243.1 130.3,246.2" fill="#d7be28"/><polygon points="84.1,238.1 87.6,270.1 84,253.8 80.5,250.1" fill="#a9c73a"/><polygon points="123.2,239.1 126.7,249.3 123.1,273.1 119.6,245.3" fill="#e3bc2c"/><polygon points="73.5,283.8 77,235.7 73.4,238.1 69.9,279.2" fill="#307efb"/><polygon points="112.5,241.9 116.1,247.7 112.5,246 108.9,249.3" fill="#b9c431"/><polygon points="62.8,249.5 66.3,244.4 62.7,247.1 59.2,247.3" fill="#d2bf27"/><polygon points="101.9,244.2 105.4,248 101.8,233.9 98.3,239.6" fill="#fdce31"/><polygon points="141,241.8 144.5,240.8 140.9,247.6 137.4,246.1" fill="#e1bc2b"/><polygon points="52.1,251.4 55.7,244.6 52.1,244.4 48.6,250" fill="#b4c533"/><polygon points="91.2,275.5 94.8,244.4 91.2,235.5 87.6,270.1" fill="#18aedb"/><polygon points="130.3,250.4 133.9,245.2 130.3,246.2 126.7,249.3" fill="#c1c32d"/><polygon points="80.6,240 84.1,238.1 80.5,250.1 77,235.7" fill="#f5e924"/><polygon points="119.7,248.8 123.2,239.1 119.6,245.3 116.1,247.7" fill="#d5be28"/><polygon points="69.9,253.4 73.5,283.8 69.9,279.2 66.3,244.4" fill="#f6ba3b"/><polygon points="109,245.4 112.5,241.9 108.9,249.3 105.4,248" fill="#d4be28"/><polygon points="148.1,251.6 151.6,254.1 148,245.2 144.5,240.8" fill="#fdcd32"/><polygon points="59.3,255.7 62.8,249.5 59.2,247.3 55.7,244.6" fill="#f6ba3b"/><polygon points="98.4,241.6 101.9,244.2 98.3,239.6 94.8,244.4" fill="#f9ba3d"/><polygon points="137.5,249.8 141,241.8 137.4,246.1 133.9,245.2" fill="#f3ba39"/><polygon points="87.7,238.2 91.2,275.5 87.6,270.1 84.1,238.1" fill="#f6e029"/><polygon points="126.8,248.1 130.3,250.4 126.7,249.3 123.2,239.1" fill="#f8da2b"/><polygon points="77.1,250.7 80.6,240 77,235.7 73.5,283.8" fill="#3e6fff"/><polygon points="116.1,242.7 119.7,248.8 116.1,247.7 112.5,241.9" fill="#feca33"/><polygon points="66.4,243.8 69.9,253.4 66.3,244.4 62.8,249.5" fill="#d0c028"/><polygon points="105.5,244.9 109,245.4 105.4,248 101.9,244.2" fill="#febf3c"/><polygon points="144.6,259.6 148.1,251.6 144.5,240.8 141,241.8" fill="#fdcd31"/><polygon points="55.7,255.2 59.3,255.7 55.7,244.6 52.1,251.4" fill="#bcc42f"/><polygon points="94.8,265.6 98.4,241.6 94.8,244.4 91.2,275.5" fill="#249ee6"/><polygon points="133.9,256.4 137.5,249.8 133.9,245.2 130.3,250.4" fill="#cac129"/><polygon points="84.2,270.4 87.7,238.2 84.1,238.1 80.6,240" fill="#f7db2b"/><polygon points="123.3,242.2 126.8,248.1 123.2,239.1 119.7,248.8" fill="#dfbc2a"/><polygon points="73.5,253.8 77.1,250.7 73.5,283.8 69.9,253.4" fill="#aac73a"/><polygon points="112.6,253.2 116.1,242.7 112.5,241.9 109,245.4" fill="#fdbd3d"/><polygon points="151.7,258.6 155.2,244.7 151.6,254.1 148.1,251.6" fill="#c3c22b"/><polygon points="62.9,252.6 66.4,243.8 62.8,249.5 59.3,255.7" fill="#8ecb4f"/><polygon points="102,246 105.5,244.9 101.9,244.2 98.4,241.6" fill="#fad52e"/><polygon points="141.1,253.8 144.6,259.6 141,241.8 137.5,249.8" fill="#dbbd28"/><polygon points="91.3,264.4 94.8,265.6 91.2,275.5 87.7,238.2" fill="#f5eb23"/><polygon points="130.4,247.7 133.9,256.4 130.3,250.4 126.8,248.1" fill="#edba33"/><polygon points="80.7,257.9 84.2,270.4 80.6,240 77.1,250.7" fill="#d6be28"/><polygon points="119.7,243.5 123.3,242.2 119.7,248.8 116.1,242.7" fill="#fbd22f"/><polygon points="70,245.3 73.5,253.8 69.9,253.4 66.4,243.8" fill="#fdcc32"/><polygon points="109.1,248.6 112.6,253.2 109,245.4 105.5,244.9" fill="#fec636"/><polygon points="148.2,257.1 151.7,258.6 148.1,251.6 144.6,259.6" fill="#65cd6e"/><polygon points="59.3,255.8 62.9,252.6 59.3,255.7 55.7,255.2" fill="#a4c83e"/><polygon points="98.4,253.7 102,246 98.4,241.6 94.8,265.6" fill="#2ec4a4"/><polygon points="137.5,257.7 141.1,253.8 137.5,249.8 133.9,256.4" fill="#97ca48"/><polygon points="87.8,258.6 91.3,264.4 87.7,238.2 84.2,270.4" fill="#02bac4"/><polygon points="126.9,258.4 130.4,247.7 126.8,248.1 123.3,242.2" fill="#f8da2b"/><polygon points="77.1,244.1 80.7,257.9 77.1,250.7 73.5,253.8" fill="#bec32e"/><polygon points="116.2,253.9 119.7,243.5 116.1,242.7 112.6,253.2" fill="#c6c22a"/><polygon points="155.3,251.5 158.8,254.4 155.2,244.7 151.7,258.6" fill="#7fcc5a"/><polygon points="66.5,251.1 70,245.3 66.4,243.8 62.9,252.6" fill="#cfc028"/><polygon points="105.6,261 109.1,248.6 105.5,244.9 102,246" fill="#fec636"/><polygon points="144.6,278.7 148.2,257.1 144.6,259.6 141.1,253.8" fill="#c4c22b"/><polygon points="94.9,274.8 98.4,253.7 94.8,265.6 91.3,264.4" fill="#3cc992"/><polygon points="134,285.3 137.5,257.7 133.9,256.4 130.4,247.7" fill="#febe3c"/><polygon points="84.3,258.1 87.8,258.6 84.2,270.4 80.7,257.9" fill="#92ca4b"/><polygon points="123.3,253.9 126.9,258.4 123.3,242.2 119.7,243.5" fill="#f8d92b"/><polygon points="73.6,249.6 77.1,244.1 73.5,253.8 70,245.3" fill="#fdce31"/><polygon points="112.7,255.3 116.2,253.9 112.6,253.2 109.1,248.6" fill="#fdbd3d"/><polygon points="151.8,253.2 155.3,251.5 151.7,258.6 148.2,257.1" fill="#a5c83e"/><polygon points="62.9,257.1 66.5,251.1 62.9,252.6 59.3,255.8" fill="#b6c532"/><polygon points="102,252 105.6,261 102,246 98.4,253.7" fill="#d1bf27"/><polygon points="141.1,258.6 144.6,278.7 141.1,253.8 137.5,257.7" fill="#a0c841"/><polygon points="91.4,242.1 94.9,274.8 91.3,264.4 87.8,258.6" fill="#95ca49"/><polygon points="130.5,244.6 134,285.3 130.4,247.7 126.9,258.4" fill="#99c946"/><polygon points="80.7,253.2 84.3,258.1 80.7,257.9 77.1,244.1" fill="#f7dc2a"/><polygon points="119.8,260 123.3,253.9 119.7,243.5 116.2,253.9" fill="#d6be28"/><polygon points="70.1,251.2 73.6,249.6 70,245.3 66.5,251.1" fill="#f1ba37"/><polygon points="109.2,256.1 112.7,255.3 109.1,248.6 105.6,261" fill="#7bcc5d"/><polygon points="148.2,264.4 151.8,253.2 148.2,257.1 144.6,278.7" fill="#1fa6e1"/><polygon points="98.5,256.1 102,252 98.4,253.7 94.9,274.8" fill="#05b6ce"/><polygon points="137.6,265 141.1,258.6 137.5,257.7 134,285.3" fill="#2d88f6"/><polygon points="87.8,255.4 91.4,242.1 87.8,258.6 84.3,258.1" fill="#abc739"/><polygon points="126.9,259.3 130.5,244.6 126.9,258.4 123.3,253.9" fill="#debc2a"/><polygon points="77.2,266.1 80.7,253.2 77.1,244.1 73.6,249.6" fill="#fec13a"/><polygon points="116.3,260.8 119.8,260 116.2,253.9 112.7,255.3" fill="#d2bf27"/><polygon points="66.5,255.3 70.1,251.2 66.5,251.1 62.9,257.1" fill="#bec32e"/><polygon points="105.6,258.7 109.2,256.1 105.6,261 102,252" fill="#f4ba3a"/><polygon points="144.7,263.2 148.2,264.4 144.6,278.7 141.1,258.6" fill="#aec637"/><polygon points="95,260.3 98.5,256.1 94.9,274.8 91.4,242.1" fill="#f6f21d"/><polygon points="134.1,254.2 137.6,265 134,285.3 130.5,244.6" fill="#f5e427"/><polygon points="84.3,259.4 87.8,255.4 84.3,258.1 80.7,253.2" fill="#efba35"/><polygon points="123.4,258.9 126.9,259.3 123.3,253.9 119.8,260" fill="#a2c840"/><polygon points="73.7,265.8 77.2,266.1 73.6,249.6 70.1,251.2" fill="#febe3c"/><polygon points="112.8,289.2 116.3,260.8 112.7,255.3 109.2,256.1" fill="#d5be28"/><polygon points="102.1,257.9 105.6,258.7 102,252 98.5,256.1" fill="#d9be28"/><polygon points="141.2,260.7 144.7,263.2 141.1,258.6 137.6,265" fill="#64cd6f"/><polygon points="91.4,283.9 95,260.3 91.4,242.1 87.8,255.4" fill="#e2bc2b"/><polygon points="130.5,266.2 134.1,254.2 130.5,244.6 126.9,259.3" fill="#b6c532"/><polygon points="80.8,259.2 84.3,259.4 80.7,253.2 77.2,266.1" fill="#5acc77"/><polygon points="119.9,248.7 123.4,258.9 119.8,260 116.3,260.8" fill="#a6c83d"/><polygon points="70.1,254.8 73.7,265.8 70.1,251.2 66.5,255.3" fill="#e8bb2e"/><polygon points="109.2,260 112.8,289.2 109.2,256.1 105.6,258.7" fill="#c4c22b"/><polygon points="98.6,255.8 102.1,257.9 98.5,256.1 95,260.3" fill="#b4c533"/><polygon points="137.7,269.3 141.2,260.7 137.6,265 134.1,254.2" fill="#f5ba3b"/><polygon points="87.9,263.8 91.4,283.9 87.8,255.4 84.3,259.4" fill="#c2c22c"/><polygon points="127,283.8 130.5,266.2 126.9,259.3 123.4,258.9" fill="#c9c129"/><polygon points="77.3,260.8 80.8,259.2 77.2,266.1 73.7,265.8" fill="#6ecd67"/><polygon points="116.4,260.7 119.9,248.7 116.3,260.8 112.8,289.2" fill="#2e86f7"/><polygon points="105.7,253.6 109.2,260 105.6,258.7 102.1,257.9" fill="#dabd28"/><polygon points="95,258.1 98.6,255.8 95,260.3 91.4,283.9" fill="#21a3e3"/><polygon points="134.1,284.1 137.7,269.3 134.1,254.2 130.5,266.2" fill="#72cd63"/><polygon points="84.4,259.5 87.9,263.8 84.3,259.4 80.8,259.2" fill="#d1bf27"/><polygon points="123.5,252.2 127,283.8 123.4,258.9 119.9,248.7" fill="#f6df29"/><polygon points="73.7,264.8 77.3,260.8 73.7,265.8 70.1,254.8" fill="#fbbc3d"/><polygon points="112.8,282.4 116.4,260.7 112.8,289.2 109.2,260" fill="#cdc028"/><polygon points="102.2,265.4 105.7,253.6 102.1,257.9 98.6,255.8" fill="#f8ba3d"/><polygon points="91.5,272.2 95,258.1 91.4,283.9 87.9,263.8" fill="#a2c83f"/><polygon points="130.6,268.3 134.1,284.1 130.5,266.2 127,283.8" fill="#1da9e0"/><polygon points="80.9,256.8 84.4,259.5 80.8,259.2 77.3,260.8" fill="#cbc029"/><polygon points="120,268.2 123.5,252.2 119.9,248.7 116.4,260.7" fill="#cfc028"/><polygon points="109.3,268.4 112.8,282.4 109.2,260 105.7,253.6" fill="#fec934"/><polygon points="98.6,277.3 102.2,265.4 98.6,255.8 95,258.1" fill="#eeba34"/><polygon points="88,263.4 91.5,272.2 87.9,263.8 84.4,259.5" fill="#e3bb2c"/><polygon points="127.1,261.9 130.6,268.3 127,283.8 123.5,252.2" fill="#fad62d"/><polygon points="77.3,263.2 80.9,256.8 77.3,260.8 73.7,264.8" fill="#a7c73c"/><polygon points="116.4,265 120,268.2 116.4,260.7 112.8,282.4" fill="#0cb3d3"/><polygon points="105.8,267.1 109.3,268.4 105.7,253.6 102.2,265.4" fill="#a4c83e"/><polygon points="95.1,269.4 98.6,277.3 95,258.1 91.5,272.2" fill="#4bcb84"/><polygon points="84.5,261.5 88,263.4 84.4,259.5 80.9,256.8" fill="#fec03b"/><polygon points="123.5,258.9 127.1,261.9 123.5,252.2 120,268.2" fill="#86cb55"/><polygon points="112.9,268 116.4,265 112.8,282.4 109.3,268.4" fill="#86cb55"/><polygon points="102.2,265 105.8,267.1 102.2,265.4 98.6,277.3" fill="#2bc3a8"/><polygon points="91.6,260.4 95.1,269.4 91.5,272.2 88,263.4" fill="#cec028"/><polygon points="80.9,261.2 84.5,261.5 80.9,256.8 77.3,263.2" fill="#d3bf27"/><polygon points="120,294.3 123.5,258.9 120,268.2 116.4,265" fill="#c0c32d"/><polygon points="109.4,263.5 112.9,268 109.3,268.4 105.8,267.1" fill="#a7c73c"/><polygon points="98.7,268.9 102.2,265 98.6,277.3 95.1,269.4" fill="#8bcb50"/><polygon points="88.1,278.5 91.6,260.4 88,263.4 84.5,261.5" fill="#edba33"/><polygon points="116.5,266.5 120,294.3 116.4,265 112.9,268" fill="#a7c73c"/><polygon points="105.8,257.2 109.4,263.5 105.8,267.1 102.2,265" fill="#d0c028"/><polygon points="95.2,264.3 98.7,268.9 95.1,269.4 91.6,260.4" fill="#fcbc3d"/><polygon points="84.5,262.6 88.1,278.5 84.5,261.5 80.9,261.2" fill="#f9ba3d"/><polygon points="113,265.6 116.5,266.5 112.9,268 109.4,263.5" fill="#e9bb2f"/><polygon points="102.3,272.3 105.8,257.2 102.2,265 98.7,268.9" fill="#aec637"/><polygon points="91.7,270.6 95.2,264.3 91.6,260.4 88.1,278.5" fill="#37c897"/><polygon points="109.4,270.4 113,265.6 109.4,263.5 105.8,257.2" fill="#f8d92b"/><polygon points="98.8,271.2 102.3,272.3 98.7,268.9 95.2,264.3" fill="#edba33"/><polygon points="88.1,260.3 91.7,270.6 88.1,278.5 84.5,262.6" fill="#fcbc3d"/><polygon points="105.9,271.9 109.4,270.4 105.8,257.2 102.3,272.3" fill="#9bc945"/><polygon points="95.3,265.5 98.8,271.2 95.2,264.3 91.7,270.6" fill="#b4c534"/><polygon points="102.4,272.5 105.9,271.9 102.3,272.3 98.8,271.2" fill="#b8c431"/><polygon points="91.7,281.9 95.3,265.5 91.7,270.6 88.1,260.3" fill="#fad52d"/><polygon points="98.9,274.3 102.4,272.5 98.8,271.2 95.3,265.5" fill="#fbbc3d"/><polygon points="95.3,269.8 98.9,274.3 95.3,265.5 91.7,281.9" fill="#45cb88"/></g>
<text transform="translate(96.6 349) scale(0.85 1)" font-size="6.0" text-anchor="middle" >128</text>
<text transform="translate(118.5 342.1) scale(0.85 1)" font-size="6.0" text-anchor="middle" >130</text>
<text transform="translate(140.4 335.2) scale(0.85 1)" font-size="6.0" text-anchor="middle" >132</text>
<text transform="translate(162.3 328.3) scale(0.85 1)" font-size="6.0" text-anchor="middle" >134</text>
<text transform="translate(184.2 321.4) scale(0.85 1)" font-size="6.0" text-anchor="middle" >136</text>
<text transform="translate(82 348.8) scale(0.85 1)" font-size="6.0" text-anchor="middle" >24</text>
<text transform="translate(59.9 336.6) scale(0.85 1)" font-size="6.0" text-anchor="middle" >26</text>
<text transform="translate(37.7 324.5) scale(0.85 1)" font-size="6.0" text-anchor="middle" >28</text>
<text transform="translate(15.6 312.3) scale(0.85 1)" font-size="6.0" text-anchor="middle" >30</text>
<text transform="translate(18.9 307.4) scale(0.85 1)" font-size="6.0" text-anchor="end" >-6</text>
<text transform="translate(18.9 287.8) scale(0.85 1)" font-size="6.0" text-anchor="end" >-4</text>
<text transform="translate(18.9 268.3) scale(0.85 1)" font-size="6.0" text-anchor="end" >-2</text>
<text transform="translate(18.9 248.7) scale(0.85 1)" font-size="6.0" text-anchor="end" >0</text>
<text transform="translate(18.9 229.1) scale(0.85 1)" font-size="6.0" text-anchor="end" >2</text>
<path d="M22.4 305.5L22.4 227.2M22.4 305.5L88.8 342M88.8 342L176.4 314.4M88.8 342L87.2 341.1M110.7 335.1L109.1 334.2M132.6 328.2L131 327.3M154.5 321.3L152.9 320.4M176.4 314.4L174.8 313.5M88.8 342L90.5 341.4M66.7 329.8L68.4 329.3M44.5 317.7L46.2 317.1M22.4 305.5L24.1 305M22.4 305.5L24.1 305M22.4 285.9L24.1 285.4M22.4 266.4L24.1 265.8M22.4 246.8L24.1 246.2M22.4 227.2L24.1 226.7" stroke="#111" stroke-width="1" fill="none"/>
<g class="b"><text transform="translate(37.8 350) scale(0.88 1)" font-size="7.5" text-anchor="middle" >N-Latitude/(<tspan font-size="5.4" dy="-2.7">o</tspan><tspan dy="2.7">)</tspan></text></g>
<g class="b"><text transform="translate(150.2 351.9) scale(0.88 1)" font-size="7.5" text-anchor="middle" >E-Longitude/(<tspan font-size="5.4" dy="-2.7">o</tspan><tspan dy="2.7">)</tspan></text></g>
<g class="b"><text transform="translate(10.9 266.4) rotate(-90) scale(1 1)" font-size="6.6" text-anchor="middle">Differential Entropy</text></g>
<g class="b"><text x="98.8" y="198.9" font-size="6.9" text-anchor="middle" >(d1)</text></g>
<linearGradient id="cb2" x1="0" y1="0" x2="0" y2="1"><stop offset="0%" stop-color="#f9fb15"/><stop offset="6.2%" stop-color="#f5e327"/><stop offset="12.5%" stop-color="#feca33"/><stop offset="18.8%" stop-color="#f1ba37"/><stop offset="25%" stop-color="#c8c129"/><stop offset="31.2%" stop-color="#94ca4a"/><stop offset="37.5%" stop-color="#5ccc76"/><stop offset="43.8%" stop-color="#34c79c"/><stop offset="50%" stop-color="#12beb9"/><stop offset="56.2%" stop-color="#0cb3d3"/><stop offset="62.5%" stop-color="#21a3e3"/><stop offset="68.8%" stop-color="#2c90f0"/><stop offset="75%" stop-color="#347afd"/><stop offset="81.2%" stop-color="#4562fc"/><stop offset="87.5%" stop-color="#484cef"/><stop offset="93.8%" stop-color="#4536d5"/><stop offset="100%" stop-color="#3e26a8"/></linearGradient>
<rect x="191.3" y="199.7" width="8.6" height="141.9" fill="url(#cb2)" stroke="#444" stroke-width="0.4"/>
<line x1="198.7" y1="329.1" x2="199.9" y2="329.1" stroke="#333" stroke-width="0.4" />
<text transform="translate(202.2 330.7) scale(0.79 1)" font-size="5.9" text-anchor="start" >-4</text>
<line x1="198.7" y1="307.4" x2="199.9" y2="307.4" stroke="#333" stroke-width="0.4" />
<text transform="translate(202.2 309) scale(0.79 1)" font-size="5.9" text-anchor="start" >-3</text>
<line x1="198.7" y1="285.8" x2="199.9" y2="285.8" stroke="#333" stroke-width="0.4" />
<text transform="translate(202.2 287.4) scale(0.79 1)" font-size="5.9" text-anchor="start" >-2</text>
<line x1="198.7" y1="264.2" x2="199.9" y2="264.2" stroke="#333" stroke-width="0.4" />
<text transform="translate(202.2 265.8) scale(0.79 1)" font-size="5.9" text-anchor="start" >-1</text>
<line x1="198.7" y1="242.5" x2="199.9" y2="242.5" stroke="#333" stroke-width="0.4" />
<text transform="translate(202.2 244.1) scale(0.79 1)" font-size="5.9" text-anchor="start" >0</text>
<line x1="198.7" y1="220.9" x2="199.9" y2="220.9" stroke="#333" stroke-width="0.4" />
<text transform="translate(202.2 222.5) scale(0.79 1)" font-size="5.9" text-anchor="start" >1</text>
<polygon points="22.4,495.5 22.4,417.2 110,389.6 110,467.9" fill="#fff"/>
<polygon points="110,467.9 110,389.6 176.4,426.1 176.4,504.4" fill="#fff"/>
<polygon points="22.4,495.5 88.8,532 176.4,504.4 110,467.9" fill="#fff"/>
<path d="M22.4 495.5L22.4 417.2M22.4 495.5L88.8 532M27.9 493.8L27.9 415.5M27.9 493.8L94.3 530.3M33.3 492.1L33.3 413.8M33.3 492.1L99.8 528.5M38.8 490.3L38.8 412M38.8 490.3L105.2 526.8M44.3 488.6L44.3 410.3M44.3 488.6L110.7 525.1M49.8 486.9L49.8 408.6M49.8 486.9L116.2 523.4M55.2 485.2L55.2 406.9M55.2 485.2L121.6 521.6M60.7 483.4L60.7 405.1M60.7 483.4L127.1 519.9M66.2 481.7L66.2 403.4M66.2 481.7L132.6 518.2M71.7 480L71.7 401.7M71.7 480L138.1 516.5M77.1 478.3L77.1 400M77.1 478.3L143.6 514.8M82.6 476.5L82.6 398.2M82.6 476.5L149 513M88.1 474.8L88.1 396.5M88.1 474.8L154.5 511.3M93.6 473.1L93.6 394.8M93.6 473.1L160 509.6M99 471.4L99 393.1M99 471.4L165.4 507.9M104.5 469.6L104.5 391.3M104.5 469.6L170.9 506.1M110 467.9L110 389.6M110 467.9L176.4 504.4M176.4 504.4L176.4 426.1M88.8 532L176.4 504.4M170.9 501.4L170.9 423.1M83.3 529L170.9 501.4M165.3 498.3L165.3 420M77.7 525.9L165.3 498.3M159.8 495.3L159.8 417M72.2 522.9L159.8 495.3M154.3 492.2L154.3 413.9M66.7 519.8L154.3 492.2M148.7 489.2L148.7 410.9M61.1 516.8L148.7 489.2M143.2 486.2L143.2 407.9M55.6 513.8L143.2 486.2M137.7 483.1L137.7 404.8M50.1 510.7L137.7 483.1M132.1 480.1L132.1 401.8M44.5 507.7L132.1 480.1M126.6 477L126.6 398.7M39 504.6L126.6 477M121 474L121 395.7M33.4 501.6L121 474M115.5 471L115.5 392.7M27.9 498.6L115.5 471M110 467.9L110 389.6M22.4 495.5L110 467.9" stroke="#e7e7e7" stroke-width="0.45" fill="none"/>
<path d="M22.4 495.5L110 467.9M110 467.9L176.4 504.4M22.4 492.3L110 464.7M110 464.7L176.4 501.1M22.4 489L110 461.4M110 461.4L176.4 497.9M22.4 485.7L110 458.1M110 458.1L176.4 494.6M22.4 482.5L110 454.9M110 454.9L176.4 491.3M22.4 479.2L110 451.6M110 451.6L176.4 488.1M22.4 475.9L110 448.3M110 448.3L176.4 484.8M22.4 472.7L110 445.1M110 445.1L176.4 481.6M22.4 469.4L110 441.8M110 441.8L176.4 478.3M22.4 466.2L110 438.6M110 438.6L176.4 475M22.4 462.9L110 435.3M110 435.3L176.4 471.8M22.4 459.6L110 432M110 432L176.4 468.5M22.4 456.4L110 428.8M110 428.8L176.4 465.2M22.4 453.1L110 425.5M110 425.5L176.4 462M22.4 449.8L110 422.2M110 422.2L176.4 458.7M22.4 446.6L110 419M110 419L176.4 455.5M22.4 443.3L110 415.7M110 415.7L176.4 452.2M22.4 440.1L110 412.5M110 412.5L176.4 448.9M22.4 436.8L110 409.2M110 409.2L176.4 445.7M22.4 433.5L110 405.9M110 405.9L176.4 442.4M22.4 430.3L110 402.7M110 402.7L176.4 439.1M22.4 427L110 399.4M110 399.4L176.4 435.9M22.4 423.7L110 396.1M110 396.1L176.4 432.6M22.4 420.5L110 392.9M110 392.9L176.4 429.4M22.4 417.2L110 389.6M110 389.6L176.4 426.1" stroke="#e7e7e7" stroke-width="0.4" fill="none"/>
<path d="M22.4 495.5L22.4 417.2M22.4 495.5L88.8 532M44.3 488.6L44.3 410.3M44.3 488.6L110.7 525.1M66.2 481.7L66.2 403.4M66.2 481.7L132.6 518.2M88.1 474.8L88.1 396.5M88.1 474.8L154.5 511.3M110 467.9L110 389.6M110 467.9L176.4 504.4M176.4 504.4L176.4 426.1M88.8 532L176.4 504.4M154.3 492.2L154.3 413.9M66.7 519.8L154.3 492.2M132.1 480.1L132.1 401.8M44.5 507.7L132.1 480.1M110 467.9L110 389.6M22.4 495.5L110 467.9M22.4 495.5L110 467.9M110 467.9L176.4 504.4M22.4 482.5L110 454.9M110 454.9L176.4 491.3M22.4 469.4L110 441.8M110 441.8L176.4 478.3M22.4 456.4L110 428.8M110 428.8L176.4 465.2M22.4 443.3L110 415.7M110 415.7L176.4 452.2M22.4 430.3L110 402.7M110 402.7L176.4 439.1M22.4 417.2L110 389.6M110 389.6L176.4 426.1" stroke="#e0e0e0" stroke-width="0.5" fill="none"/>
<g stroke="#000" stroke-width="0.4" stroke-opacity="0.75" stroke-linejoin="round"><polygon points="101.3,464.5 104.9,463.5 101.3,461.4 97.7,462.8" fill="#412dbc"/><polygon points="97.8,465.6 101.3,464.5 97.7,462.8 94.2,463.5" fill="#422ec0"/><polygon points="104.9,466.4 108.5,465.4 104.9,463.5 101.3,464.5" fill="#412ebe"/><polygon points="94.3,466.7 97.8,465.6 94.2,463.5 90.7,464.6" fill="#422ec0"/><polygon points="101.4,467.7 104.9,466.4 101.3,464.5 97.8,465.6" fill="#412ebe"/><polygon points="90.8,468 94.3,466.7 90.7,464.6 87.2,465.9" fill="#412ebe"/><polygon points="108.5,468.5 112.1,467.4 108.5,465.4 104.9,466.4" fill="#422ebf"/><polygon points="97.9,468.8 101.4,467.7 97.8,465.6 94.3,466.7" fill="#412ebe"/><polygon points="87.2,469.1 90.8,468 87.2,465.9 83.6,467" fill="#412ebe"/><polygon points="105,469.7 108.5,468.5 104.9,466.4 101.4,467.7" fill="#412ebe"/><polygon points="94.4,469.8 97.9,468.8 94.3,466.7 90.8,468" fill="#412dbd"/><polygon points="83.7,469.9 87.2,469.1 83.6,467 80.1,468.3" fill="#412dbd"/><polygon points="112.1,470.6 115.7,469.5 112.1,467.4 108.5,468.5" fill="#412ebe"/><polygon points="101.5,470.5 105,469.7 101.4,467.7 97.9,468.8" fill="#412dbd"/><polygon points="90.8,471.2 94.4,469.8 90.8,468 87.2,469.1" fill="#412dbc"/><polygon points="80.2,471.5 83.7,469.9 80.1,468.3 76.6,469.4" fill="#412dbc"/><polygon points="108.6,471.7 112.1,470.6 108.5,468.5 105,469.7" fill="#412dbd"/><polygon points="97.9,471.7 101.5,470.5 97.9,468.8 94.4,469.8" fill="#412ebe"/><polygon points="87.3,472.1 90.8,471.2 87.2,469.1 83.7,469.9" fill="#422ec0"/><polygon points="76.6,472.4 80.2,471.5 76.6,469.4 73,470.4" fill="#412dbd"/><polygon points="115.7,472.7 119.3,471.3 115.7,469.5 112.1,470.6" fill="#412dbd"/><polygon points="105.1,472.7 108.6,471.7 105,469.7 101.5,470.5" fill="#422fc0"/><polygon points="94.4,472.8 97.9,471.7 94.4,469.8 90.8,471.2" fill="#412dbc"/><polygon points="83.8,473.2 87.3,472.1 83.7,469.9 80.2,471.5" fill="#412dbc"/><polygon points="73.1,473.4 76.6,472.4 73,470.4 69.5,471.7" fill="#412dbc"/><polygon points="112.2,473.3 115.7,472.7 112.1,470.6 108.6,471.7" fill="#412dbc"/><polygon points="101.5,473.8 105.1,472.7 101.5,470.5 97.9,471.7" fill="#422ec0"/><polygon points="90.9,473.8 94.4,472.8 90.8,471.2 87.3,472.1" fill="#412dbd"/><polygon points="80.2,474.4 83.8,473.2 80.2,471.5 76.6,472.4" fill="#412dbd"/><polygon points="119.3,474.6 122.9,473.5 119.3,471.3 115.7,472.7" fill="#412dbc"/><polygon points="69.6,474.4 73.1,473.4 69.5,471.7 66,472.6" fill="#412ebd"/><polygon points="108.7,474.6 112.2,473.3 108.6,471.7 105.1,472.7" fill="#412ebd"/><polygon points="98,474.8 101.5,473.8 97.9,471.7 94.4,472.8" fill="#422ebf"/><polygon points="87.4,475.2 90.9,473.8 87.3,472.1 83.8,473.2" fill="#412dbd"/><polygon points="76.7,475.3 80.2,474.4 76.6,472.4 73.1,473.4" fill="#412ebe"/><polygon points="115.8,473.6 119.3,474.6 115.7,472.7 112.2,473.3" fill="#422ec0"/><polygon points="66.1,475.8 69.6,474.4 66,472.6 62.5,473.7" fill="#412ebd"/><polygon points="105.1,475.7 108.7,474.6 105.1,472.7 101.5,473.8" fill="#412ebe"/><polygon points="94.5,475.8 98,474.8 94.4,472.8 90.9,473.8" fill="#422ec0"/><polygon points="83.8,476.3 87.4,475.2 83.8,473.2 80.2,474.4" fill="#412dbd"/><polygon points="122.9,476.2 126.5,475.4 122.9,473.5 119.3,474.6" fill="#412dbc"/><polygon points="73.2,476.4 76.7,475.3 73.1,473.4 69.6,474.4" fill="#422ebf"/><polygon points="112.3,473.6 115.8,473.6 112.2,473.3 108.7,474.6" fill="#422ebf"/><polygon points="62.5,476.5 66.1,475.8 62.5,473.7 58.9,474.8" fill="#412ebd"/><polygon points="101.6,477 105.1,475.7 101.5,473.8 98,474.8" fill="#422ebf"/><polygon points="91,477.1 94.5,475.8 90.9,473.8 87.4,475.2" fill="#412ebe"/><polygon points="80.3,477.4 83.8,476.3 80.2,474.4 76.7,475.3" fill="#422ebe"/><polygon points="119.4,473.5 122.9,476.2 119.3,474.6 115.8,473.6" fill="#4435d1"/><polygon points="69.7,477.8 73.2,476.4 69.6,474.4 66.1,475.8" fill="#412dbd"/><polygon points="108.7,476.4 112.3,473.6 108.7,474.6 105.1,475.7" fill="#422ebe"/><polygon points="59,477.9 62.5,476.5 58.9,474.8 55.4,475.7" fill="#422ebf"/><polygon points="98.1,478.3 101.6,477 98,474.8 94.5,475.8" fill="#422ebf"/><polygon points="87.4,478.1 91,477.1 87.4,475.2 83.8,476.3" fill="#412dbd"/><polygon points="126.5,478.2 130.1,477.3 126.5,475.4 122.9,476.2" fill="#422ec0"/><polygon points="76.8,478.6 80.3,477.4 76.7,475.3 73.2,476.4" fill="#422ebf"/><polygon points="115.9,461 119.4,473.5 115.8,473.6 112.3,473.6" fill="#463adb"/><polygon points="66.1,478.8 69.7,477.8 66.1,475.8 62.5,476.5" fill="#422ec0"/><polygon points="105.2,478.9 108.7,476.4 105.1,475.7 101.6,477" fill="#412dbd"/><polygon points="55.5,478.7 59,477.9 55.4,475.7 51.9,476.9" fill="#422ebf"/><polygon points="94.6,479 98.1,478.3 94.5,475.8 91,477.1" fill="#422ebe"/><polygon points="83.9,479.4 87.4,478.1 83.8,476.3 80.3,477.4" fill="#412ebd"/><polygon points="123,477.7 126.5,478.2 122.9,476.2 119.4,473.5" fill="#473fe2"/><polygon points="73.2,479.4 76.8,478.6 73.2,476.4 69.7,477.8" fill="#412dbd"/><polygon points="112.3,477.4 115.9,461 112.3,473.6 108.7,476.4" fill="#4435d1"/><polygon points="62.6,479.8 66.1,478.8 62.5,476.5 59,477.9" fill="#422ebe"/><polygon points="101.7,480.2 105.2,478.9 101.6,477 98.1,478.3" fill="#412dbb"/><polygon points="51.9,480.1 55.5,478.7 51.9,476.9 48.3,478.1" fill="#422ebe"/><polygon points="91,480.4 94.6,479 91,477.1 87.4,478.1" fill="#422ebf"/><polygon points="130.1,480.2 133.6,479.3 130.1,477.3 126.5,478.2" fill="#422ebf"/><polygon points="80.4,470.3 83.9,479.4 80.3,477.4 76.8,478.6" fill="#412dbd"/><polygon points="119.5,476.4 123,477.7 119.4,473.5 115.9,461" fill="#2d89f5"/><polygon points="69.7,480.5 73.2,479.4 69.7,477.8 66.1,478.8" fill="#412dbd"/><polygon points="108.8,480.8 112.3,477.4 108.7,476.4 105.2,478.9" fill="#422fc2"/><polygon points="59.1,480.8 62.6,479.8 59,477.9 55.5,478.7" fill="#422fc0"/><polygon points="98.2,480.9 101.7,480.2 98.1,478.3 94.6,479" fill="#422ebe"/><polygon points="48.4,479.6 51.9,480.1 48.3,478.1 44.8,479.3" fill="#412dbd"/><polygon points="87.5,481.3 91,480.4 87.4,478.1 83.9,479.4" fill="#412ebe"/><polygon points="126.6,481.4 130.1,480.2 126.5,478.2 123,477.7" fill="#4434d0"/><polygon points="76.8,465.5 80.4,470.3 76.8,478.6 73.2,479.4" fill="#422ec0"/><polygon points="115.9,480.4 119.5,476.4 115.9,461 112.3,477.4" fill="#484ef1"/><polygon points="66.2,481.8 69.7,480.5 66.1,478.8 62.6,479.8" fill="#422ebe"/><polygon points="105.3,481.9 108.8,480.8 105.2,478.9 101.7,480.2" fill="#412dbc"/><polygon points="55.5,481.9 59.1,480.8 55.5,478.7 51.9,480.1" fill="#422ebf"/><polygon points="94.6,482 98.2,480.9 94.6,479 91,480.4" fill="#412dbc"/><polygon points="133.7,482.3 137.2,481.1 133.6,479.3 130.1,480.2" fill="#422ebf"/><polygon points="44.9,477.6 48.4,479.6 44.8,479.3 41.3,480.2" fill="#422ebf"/><polygon points="84,452.4 87.5,481.3 83.9,479.4 80.4,470.3" fill="#465ffb"/><polygon points="123.1,482.6 126.6,481.4 123,477.7 119.5,476.4" fill="#4740e3"/><polygon points="73.3,475.3 76.8,465.5 73.2,479.4 69.7,480.5" fill="#422ec0"/><polygon points="112.4,482.6 115.9,480.4 112.3,477.4 108.8,480.8" fill="#4330c5"/><polygon points="62.7,483 66.2,481.8 62.6,479.8 59.1,480.8" fill="#422ebf"/><polygon points="101.8,482.1 105.3,481.9 101.7,480.2 98.2,480.9" fill="#422fc0"/><polygon points="52,478.7 55.5,481.9 51.9,480.1 48.4,479.6" fill="#4434ce"/><polygon points="91.1,483.3 94.6,482 91,480.4 87.5,481.3" fill="#412ebe"/><polygon points="130.2,483.5 133.7,482.3 130.1,480.2 126.6,481.4" fill="#422ebf"/><polygon points="41.4,481.5 44.9,477.6 41.3,480.2 37.8,481.6" fill="#412dbd"/><polygon points="80.4,418.3 84,452.4 80.4,470.3 76.8,465.5" fill="#2f81fa"/><polygon points="119.5,483.6 123.1,482.6 119.5,476.4 115.9,480.4" fill="#4536d3"/><polygon points="69.8,483.7 73.3,475.3 69.7,480.5 66.2,481.8" fill="#412ebe"/><polygon points="108.9,483.8 112.4,482.6 108.8,480.8 105.3,481.9" fill="#412ebe"/><polygon points="59.1,483.6 62.7,483 59.1,480.8 55.5,481.9" fill="#422ebf"/><polygon points="98.2,481.9 101.8,482.1 98.2,480.9 94.6,482" fill="#422ec0"/><polygon points="137.3,484.6 140.8,483.1 137.2,481.1 133.7,482.3" fill="#422ebe"/><polygon points="48.5,465.4 52,478.7 48.4,479.6 44.9,477.6" fill="#4743e7"/><polygon points="87.6,479.2 91.1,483.3 87.5,481.3 84,452.4" fill="#02bac4"/><polygon points="126.7,483.5 130.2,483.5 126.6,481.4 123.1,482.6" fill="#412ebd"/><polygon points="76.9,476.8 80.4,418.3 76.8,465.5 73.3,475.3" fill="#465ffb"/><polygon points="116,482.9 119.5,483.6 115.9,480.4 112.4,482.6" fill="#4230c3"/><polygon points="66.3,484.8 69.8,483.7 66.2,481.8 62.7,483" fill="#412dbd"/><polygon points="105.4,483.1 108.9,483.8 105.3,481.9 101.8,482.1" fill="#4331c8"/><polygon points="55.6,482.8 59.1,483.6 55.5,481.9 52,478.7" fill="#4741e5"/><polygon points="94.7,483.5 98.2,481.9 94.6,482 91.1,483.3" fill="#422ebf"/><polygon points="133.8,485.7 137.3,484.6 133.7,482.3 130.2,483.5" fill="#412ebd"/><polygon points="45,479.9 48.5,465.4 44.9,477.6 41.4,481.5" fill="#4639d9"/><polygon points="84,479 87.6,479.2 84,452.4 80.4,418.3" fill="#f9fb15"/><polygon points="123.1,483.9 126.7,483.5 123.1,482.6 119.5,483.6" fill="#412ebe"/><polygon points="73.4,485.2 76.9,476.8 73.3,475.3 69.8,483.7" fill="#4537d5"/><polygon points="112.5,483.6 116,482.9 112.4,482.6 108.9,483.8" fill="#422ebf"/><polygon points="62.7,485.1 66.3,484.8 62.7,483 59.1,483.6" fill="#4230c3"/><polygon points="101.8,473.1 105.4,483.1 101.8,482.1 98.2,481.9" fill="#4536d4"/><polygon points="140.9,486.4 144.4,485.1 140.8,483.1 137.3,484.6" fill="#412dbc"/><polygon points="52.1,484.2 55.6,482.8 52,478.7 48.5,465.4" fill="#2c8ff0"/><polygon points="91.2,486.4 94.7,483.5 91.1,483.3 87.6,479.2" fill="#4745ea"/><polygon points="130.3,484.8 133.8,485.7 130.2,483.5 126.7,483.5" fill="#4332c9"/><polygon points="80.5,479.9 84,479 80.4,418.3 76.9,476.8" fill="#1babde"/><polygon points="119.6,480.1 123.1,483.9 119.5,483.6 116,482.9" fill="#4435d2"/><polygon points="69.9,486 73.4,485.2 69.8,483.7 66.3,484.8" fill="#422ebf"/><polygon points="108.9,485.2 112.5,483.6 108.9,483.8 105.4,483.1" fill="#4435d2"/><polygon points="59.2,483.2 62.7,485.1 59.1,483.6 55.6,482.8" fill="#4537d6"/><polygon points="98.3,486 101.8,473.1 98.2,481.9 94.7,483.5" fill="#4435d1"/><polygon points="137.4,487.2 140.9,486.4 137.3,484.6 133.8,485.7" fill="#412dbb"/><polygon points="48.6,484.6 52.1,484.2 48.5,465.4 45,479.9" fill="#475cfa"/><polygon points="87.6,487.7 91.2,486.4 87.6,479.2 84,479" fill="#484cf0"/><polygon points="126.7,477.2 130.3,484.8 126.7,483.5 123.1,483.9" fill="#4435d0"/><polygon points="77,481.2 80.5,479.9 76.9,476.8 73.4,485.2" fill="#4539d9"/><polygon points="116.1,468.3 119.6,480.1 116,482.9 112.5,483.6" fill="#4537d6"/><polygon points="66.3,487.4 69.9,486 66.3,484.8 62.7,485.1" fill="#4331c7"/><polygon points="105.4,485.8 108.9,485.2 105.4,483.1 101.8,473.1" fill="#3e70ff"/><polygon points="144.5,488.1 148,487 144.4,485.1 140.9,486.4" fill="#412dbd"/><polygon points="55.7,487.2 59.2,483.2 55.6,482.8 52.1,484.2" fill="#4536d4"/><polygon points="94.8,488.4 98.3,486 94.7,483.5 91.2,486.4" fill="#4230c3"/><polygon points="133.9,487.5 137.4,487.2 133.8,485.7 130.3,484.8" fill="#4434cf"/><polygon points="84.1,488.1 87.6,487.7 84,479 80.5,479.9" fill="#484df1"/><polygon points="123.2,484.2 126.7,477.2 123.1,483.9 119.6,480.1" fill="#484df1"/><polygon points="73.5,487.1 77,481.2 73.4,485.2 69.9,486" fill="#4331c7"/><polygon points="112.5,485.3 116.1,468.3 112.5,483.6 108.9,485.2" fill="#4535d2"/><polygon points="62.8,488.5 66.3,487.4 62.7,485.1 59.2,483.2" fill="#473fe2"/><polygon points="101.9,487.9 105.4,485.8 101.8,473.1 98.3,486" fill="#4743e7"/><polygon points="141,489.3 144.5,488.1 140.9,486.4 137.4,487.2" fill="#422ebf"/><polygon points="52.1,489.3 55.7,487.2 52.1,484.2 48.6,484.6" fill="#4639d9"/><polygon points="91.2,489.6 94.8,488.4 91.2,486.4 87.6,487.7" fill="#412dbd"/><polygon points="130.3,485.9 133.9,487.5 130.3,484.8 126.7,477.2" fill="#4561fc"/><polygon points="80.6,488.6 84.1,488.1 80.5,479.9 77,481.2" fill="#484df0"/><polygon points="119.7,487.1 123.2,484.2 119.6,480.1 116.1,468.3" fill="#2a92ee"/><polygon points="69.9,490.2 73.5,487.1 69.9,486 66.3,487.4" fill="#4330c5"/><polygon points="109,490.2 112.5,485.3 108.9,485.2 105.4,485.8" fill="#4537d5"/><polygon points="148.1,488.1 151.6,488.5 148,487 144.5,488.1" fill="#422ec0"/><polygon points="59.3,489.7 62.8,488.5 59.2,483.2 55.7,487.2" fill="#4435d1"/><polygon points="98.4,484.6 101.9,487.9 98.3,486 94.8,488.4" fill="#422fc2"/><polygon points="137.5,490.4 141,489.3 137.4,487.2 133.9,487.5" fill="#4332c8"/><polygon points="87.7,490.7 91.2,489.6 87.6,487.7 84.1,488.1" fill="#4230c3"/><polygon points="126.8,484.5 130.3,485.9 126.7,477.2 123.2,484.2" fill="#484bef"/><polygon points="77.1,489.9 80.6,488.6 77,481.2 73.5,487.1" fill="#463bdc"/><polygon points="116.1,488.3 119.7,487.1 116.1,468.3 112.5,485.3" fill="#4757f7"/><polygon points="66.4,491.3 69.9,490.2 66.3,487.4 62.8,488.5" fill="#4230c4"/><polygon points="105.5,488.7 109,490.2 105.4,485.8 101.9,487.9" fill="#4434ce"/><polygon points="144.6,490.4 148.1,488.1 144.5,488.1 141,489.3" fill="#422ebf"/><polygon points="55.7,491.5 59.3,489.7 55.7,487.2 52.1,489.3" fill="#422fc2"/><polygon points="94.8,482.2 98.4,484.6 94.8,488.4 91.2,489.6" fill="#412dbd"/><polygon points="133.9,488.6 137.5,490.4 133.9,487.5 130.3,485.9" fill="#463de0"/><polygon points="84.2,491.7 87.7,490.7 84.1,488.1 80.6,488.6" fill="#4332ca"/><polygon points="123.3,489.9 126.8,484.5 123.2,484.2 119.7,487.1" fill="#463bde"/><polygon points="73.5,492 77.1,489.9 73.5,487.1 69.9,490.2" fill="#422fc2"/><polygon points="112.6,492.1 116.1,488.3 112.5,485.3 109,490.2" fill="#4332c8"/><polygon points="151.7,482.4 155.2,488.7 151.6,488.5 148.1,488.1" fill="#4536d3"/><polygon points="62.9,492.2 66.4,491.3 62.8,488.5 59.3,489.7" fill="#4230c4"/><polygon points="102,477.1 105.5,488.7 101.9,487.9 98.4,484.6" fill="#4848ec"/><polygon points="141.1,492.4 144.6,490.4 141,489.3 137.5,490.4" fill="#422ebf"/><polygon points="91.3,487 94.8,482.2 91.2,489.6 87.7,490.7" fill="#412dbc"/><polygon points="130.4,475.7 133.9,488.6 130.3,485.9 126.8,484.5" fill="#484aee"/><polygon points="80.7,492.7 84.2,491.7 80.6,488.6 77.1,489.9" fill="#4332c8"/><polygon points="119.7,492.8 123.3,489.9 119.7,487.1 116.1,488.3" fill="#4539d8"/><polygon points="70,493.1 73.5,492 69.9,490.2 66.4,491.3" fill="#412dbb"/><polygon points="109.1,483.6 112.6,492.1 109,490.2 105.5,488.7" fill="#4538d7"/><polygon points="148.2,491.4 151.7,482.4 148.1,488.1 144.6,490.4" fill="#4433cb"/><polygon points="59.3,493.4 62.9,492.2 59.3,489.7 55.7,491.5" fill="#422ebe"/><polygon points="98.4,450.2 102,477.1 98.4,484.6 94.8,482.2" fill="#475bf9"/><polygon points="137.5,490.8 141.1,492.4 137.5,490.4 133.9,488.6" fill="#463adb"/><polygon points="87.8,493.7 91.3,487 87.7,490.7 84.2,491.7" fill="#422ebe"/><polygon points="126.9,487.2 130.4,475.7 126.8,484.5 123.3,489.9" fill="#463bdd"/><polygon points="77.1,493.8 80.7,492.7 77.1,489.9 73.5,492" fill="#422fc0"/><polygon points="116.2,492.6 119.7,492.8 116.1,488.3 112.6,492.1" fill="#4331c6"/><polygon points="155.3,493 158.8,492.4 155.2,488.7 151.7,482.4" fill="#465efb"/><polygon points="66.5,494.2 70,493.1 66.4,491.3 62.9,492.2" fill="#412ebe"/><polygon points="105.6,459.7 109.1,483.6 105.5,488.7 102,477.1" fill="#327cfc"/><polygon points="144.6,494.4 148.2,491.4 144.6,490.4 141.1,492.4" fill="#422fc1"/><polygon points="94.9,489.6 98.4,450.2 94.8,482.2 91.3,487" fill="#484df0"/><polygon points="134,492.1 137.5,490.8 133.9,488.6 130.4,475.7" fill="#2e85f8"/><polygon points="84.3,494.8 87.8,493.7 84.2,491.7 80.7,492.7" fill="#422ebe"/><polygon points="123.3,488.3 126.9,487.2 123.3,489.9 119.7,492.8" fill="#4330c5"/><polygon points="73.6,495.2 77.1,493.8 73.5,492 70,493.1" fill="#412dbd"/><polygon points="112.7,491.1 116.2,492.6 112.6,492.1 109.1,483.6" fill="#475cfa"/><polygon points="151.8,494.2 155.3,493 151.7,482.4 148.2,491.4" fill="#4740e4"/><polygon points="62.9,495.2 66.5,494.2 62.9,492.2 59.3,493.4" fill="#412dbd"/><polygon points="102,481.8 105.6,459.7 102,477.1 98.4,450.2" fill="#86cb55"/><polygon points="141.1,495.6 144.6,494.4 141.1,492.4 137.5,490.8" fill="#4539d9"/><polygon points="91.4,495.6 94.9,489.6 91.3,487 87.8,493.7" fill="#4434cf"/><polygon points="130.5,487.1 134,492.1 130.4,475.7 126.9,487.2" fill="#465dfa"/><polygon points="80.7,495.8 84.3,494.8 80.7,492.7 77.1,493.8" fill="#422ebf"/><polygon points="119.8,491.6 123.3,488.3 119.7,492.8 116.2,492.6" fill="#4433cd"/><polygon points="70.1,496.3 73.6,495.2 70,493.1 66.5,494.2" fill="#412dbd"/><polygon points="109.2,489 112.7,491.1 109.1,483.6 105.6,459.7" fill="#2dc4a5"/><polygon points="148.2,496.5 151.8,494.2 148.2,491.4 144.6,494.4" fill="#4230c4"/><polygon points="98.5,494.4 102,481.8 98.4,450.2 94.9,489.6" fill="#2f83f9"/><polygon points="137.6,496.7 141.1,495.6 137.5,490.8 134,492.1" fill="#4538d8"/><polygon points="87.8,496.7 91.4,495.6 87.8,493.7 84.3,494.8" fill="#412ebe"/><polygon points="126.9,466.2 130.5,487.1 126.9,487.2 123.3,488.3" fill="#484df0"/><polygon points="77.2,496.8 80.7,495.8 77.1,493.8 73.6,495.2" fill="#412dbd"/><polygon points="116.3,482.8 119.8,491.6 116.2,492.6 112.7,491.1" fill="#473fe3"/><polygon points="66.5,497.3 70.1,496.3 66.5,494.2 62.9,495.2" fill="#422ebf"/><polygon points="105.6,491.9 109.2,489 105.6,459.7 102,481.8" fill="#2994ed"/><polygon points="144.7,497.7 148.2,496.5 144.6,494.4 141.1,495.6" fill="#412ebd"/><polygon points="95,497.5 98.5,494.4 94.9,489.6 91.4,495.6" fill="#4433cd"/><polygon points="134.1,496.3 137.6,496.7 134,492.1 130.5,487.1" fill="#4758f8"/><polygon points="84.3,497.9 87.8,496.7 84.3,494.8 80.7,495.8" fill="#422ebf"/><polygon points="123.4,488.8 126.9,466.2 123.3,488.3 119.8,491.6" fill="#4745e9"/><polygon points="73.7,498.2 77.2,496.8 73.6,495.2 70.1,496.3" fill="#412dbd"/><polygon points="112.8,495.1 116.3,482.8 112.7,491.1 109.2,489" fill="#4850f3"/><polygon points="102.1,498.4 105.6,491.9 102,481.8 98.5,494.4" fill="#4747eb"/><polygon points="141.2,498.5 144.7,497.7 141.1,495.6 137.6,496.7" fill="#412ebd"/><polygon points="91.4,498.7 95,497.5 91.4,495.6 87.8,496.7" fill="#422ebf"/><polygon points="130.5,490.6 134.1,496.3 130.5,487.1 126.9,466.2" fill="#07bcbf"/><polygon points="80.8,498.9 84.3,497.9 80.7,495.8 77.2,496.8" fill="#422ec0"/><polygon points="119.9,497.3 123.4,488.8 119.8,491.6 116.3,482.8" fill="#3677fe"/><polygon points="70.1,499.4 73.7,498.2 70.1,496.3 66.5,497.3" fill="#412dbd"/><polygon points="109.2,499.1 112.8,495.1 109.2,489 105.6,491.9" fill="#484aed"/><polygon points="98.6,499.8 102.1,498.4 98.5,494.4 95,497.5" fill="#4330c5"/><polygon points="137.7,499.6 141.2,498.5 137.6,496.7 134.1,496.3" fill="#4433cd"/><polygon points="87.9,499.7 91.4,498.7 87.8,496.7 84.3,497.9" fill="#412ebe"/><polygon points="127,498 130.5,490.6 126.9,466.2 123.4,488.8" fill="#307ffb"/><polygon points="77.3,500 80.8,498.9 77.2,496.8 73.7,498.2" fill="#412ebe"/><polygon points="116.4,495.6 119.9,497.3 116.3,482.8 112.8,495.1" fill="#484cf0"/><polygon points="105.7,499.7 109.2,499.1 105.6,491.9 102.1,498.4" fill="#4434cf"/><polygon points="95,500.6 98.6,499.8 95,497.5 91.4,498.7" fill="#422ebe"/><polygon points="134.1,500.9 137.7,499.6 134.1,496.3 130.5,490.6" fill="#4756f6"/><polygon points="84.4,501.1 87.9,499.7 84.3,497.9 80.8,498.9" fill="#422ebe"/><polygon points="123.5,501.1 127,498 123.4,488.8 119.9,497.3" fill="#473fe3"/><polygon points="73.7,501.2 77.3,500 73.7,498.2 70.1,499.4" fill="#412dbd"/><polygon points="112.8,497.5 116.4,495.6 112.8,495.1 109.2,499.1" fill="#4332ca"/><polygon points="102.2,499.7 105.7,499.7 102.1,498.4 98.6,499.8" fill="#412dbc"/><polygon points="91.5,502.1 95,500.6 91.4,498.7 87.9,499.7" fill="#422ebf"/><polygon points="130.6,502.1 134.1,500.9 130.5,490.6 127,498" fill="#473ee2"/><polygon points="80.9,502 84.4,501.1 80.8,498.9 77.3,500" fill="#422ebe"/><polygon points="120,499 123.5,501.1 119.9,497.3 116.4,495.6" fill="#4742e7"/><polygon points="109.3,498.4 112.8,497.5 109.2,499.1 105.7,499.7" fill="#4331c6"/><polygon points="98.6,501.6 102.2,499.7 98.6,499.8 95,500.6" fill="#422ebf"/><polygon points="88,503 91.5,502.1 87.9,499.7 84.4,501.1" fill="#412dbd"/><polygon points="127.1,503.2 130.6,502.1 127,498 123.5,501.1" fill="#4230c4"/><polygon points="77.3,503.2 80.9,502 77.3,500 73.7,501.2" fill="#412ebe"/><polygon points="116.4,484.4 120,499 116.4,495.6 112.8,497.5" fill="#473fe3"/><polygon points="105.8,497 109.3,498.4 105.7,499.7 102.2,499.7" fill="#4435d1"/><polygon points="95.1,504 98.6,501.6 95,500.6 91.5,502.1" fill="#412dbc"/><polygon points="84.5,504.1 88,503 84.4,501.1 80.9,502" fill="#422ebf"/><polygon points="123.5,501.8 127.1,503.2 123.5,501.1 120,499" fill="#463bdc"/><polygon points="112.9,499 116.4,484.4 112.8,497.5 109.3,498.4" fill="#473fe3"/><polygon points="102.2,503.1 105.8,497 102.2,499.7 98.6,501.6" fill="#4433cc"/><polygon points="91.6,504.9 95.1,504 91.5,502.1 88,503" fill="#412dbd"/><polygon points="80.9,505.1 84.5,504.1 80.9,502 77.3,503.2" fill="#422ebe"/><polygon points="120,501.8 123.5,501.8 120,499 116.4,484.4" fill="#2c8ff0"/><polygon points="109.4,503.9 112.9,499 109.3,498.4 105.8,497" fill="#484cf0"/><polygon points="98.7,505.9 102.2,503.1 98.6,501.6 95.1,504" fill="#422ec0"/><polygon points="88.1,506 91.6,504.9 88,503 84.5,504.1" fill="#412dbd"/><polygon points="116.5,505.5 120,501.8 116.4,484.4 112.9,499" fill="#475cfa"/><polygon points="105.8,505.6 109.4,503.9 105.8,497 102.2,503.1" fill="#463adc"/><polygon points="95.2,506.9 98.7,505.9 95.1,504 91.6,504.9" fill="#422ebe"/><polygon points="84.5,507.3 88.1,506 84.5,504.1 80.9,505.1" fill="#422ebf"/><polygon points="113,507.6 116.5,505.5 112.9,499 109.4,503.9" fill="#4539d9"/><polygon points="102.3,507.7 105.8,505.6 102.2,503.1 98.7,505.9" fill="#422fc1"/><polygon points="91.7,507.8 95.2,506.9 91.6,504.9 88.1,506" fill="#412ebe"/><polygon points="109.4,508.6 113,507.6 109.4,503.9 105.8,505.6" fill="#4332ca"/><polygon points="98.8,508.9 102.3,507.7 98.7,505.9 95.2,506.9" fill="#412ebd"/><polygon points="88.1,509.3 91.7,507.8 88.1,506 84.5,507.3" fill="#412dbd"/><polygon points="105.9,510.1 109.4,508.6 105.8,505.6 102.3,507.7" fill="#422fc2"/><polygon points="95.3,509.8 98.8,508.9 95.2,506.9 91.7,507.8" fill="#422ebf"/><polygon points="102.4,510.9 105.9,510.1 102.3,507.7 98.8,508.9" fill="#412ebe"/><polygon points="91.7,511.2 95.3,509.8 91.7,507.8 88.1,509.3" fill="#412dbd"/><polygon points="98.9,512 102.4,510.9 98.8,508.9 95.3,509.8" fill="#422ebf"/><polygon points="95.3,512.8 98.9,512 95.3,509.8 91.7,511.2" fill="#412ebd"/></g>
<text transform="translate(96.6 539) scale(0.85 1)" font-size="6.0" text-anchor="middle" >128</text>
<text transform="translate(118.5 532.1) scale(0.85 1)" font-size="6.0" text-anchor="middle" >130</text>
<text transform="translate(140.4 525.2) scale(0.85 1)" font-size="6.0" text-anchor="middle" >132</text>
<text transform="translate(162.3 518.3) scale(0.85 1)" font-size="6.0" text-anchor="middle" >134</text>
<text transform="translate(184.2 511.4) scale(0.85 1)" font-size="6.0" text-anchor="middle" >136</text>
<text transform="translate(82 538.8) scale(0.85 1)" font-size="6.0" text-anchor="middle" >24</text>
<text transform="translate(59.9 526.6) scale(0.85 1)" font-size="6.0" text-anchor="middle" >26</text>
<text transform="translate(37.7 514.5) scale(0.85 1)" font-size="6.0" text-anchor="middle" >28</text>
<text transform="translate(15.6 502.3) scale(0.85 1)" font-size="6.0" text-anchor="middle" >30</text>
<text transform="translate(18.9 497.4) scale(0.85 1)" font-size="6.0" text-anchor="end" >-2</text>
<text transform="translate(18.9 484.4) scale(0.85 1)" font-size="6.0" text-anchor="end" >0</text>
<text transform="translate(18.9 471.3) scale(0.85 1)" font-size="6.0" text-anchor="end" >2</text>
<text transform="translate(18.9 458.3) scale(0.85 1)" font-size="6.0" text-anchor="end" >4</text>
<text transform="translate(18.9 445.2) scale(0.85 1)" font-size="6.0" text-anchor="end" >6</text>
<text transform="translate(18.9 432.2) scale(0.85 1)" font-size="6.0" text-anchor="end" >8</text>
<text transform="translate(18.9 419.1) scale(0.85 1)" font-size="6.0" text-anchor="end" >10</text>
<path d="M22.4 495.5L22.4 417.2M22.4 495.5L88.8 532M88.8 532L176.4 504.4M88.8 532L87.2 531.1M110.7 525.1L109.1 524.2M132.6 518.2L131 517.3M154.5 511.3L152.9 510.4M176.4 504.4L174.8 503.5M88.8 532L90.5 531.5M66.7 519.8L68.4 519.3M44.5 507.7L46.2 507.1M22.4 495.5L24.1 495M22.4 495.5L24.1 495M22.4 482.5L24.1 481.9M22.4 469.4L24.1 468.9M22.4 456.4L24.1 455.8M22.4 443.3L24.1 442.8M22.4 430.3L24.1 429.7M22.4 417.2L24.1 416.7" stroke="#111" stroke-width="1" fill="none"/>
<g class="b"><text transform="translate(37.8 540) scale(0.88 1)" font-size="7.5" text-anchor="middle" >N-Latitude/(<tspan font-size="5.4" dy="-2.7">o</tspan><tspan dy="2.7">)</tspan></text></g>
<g class="b"><text transform="translate(150.2 541.9) scale(0.88 1)" font-size="7.5" text-anchor="middle" >E-Longitude/(<tspan font-size="5.4" dy="-2.7">o</tspan><tspan dy="2.7">)</tspan></text></g>
<g class="b"><text transform="translate(10.9 456.4) rotate(-90) scale(1 1)" font-size="6.6" text-anchor="middle">Fractal dimension</text></g>
<g class="b"><text x="98.8" y="388.9" font-size="6.9" text-anchor="middle" >(e1)</text></g>
<linearGradient id="cb3" x1="0" y1="0" x2="0" y2="1"><stop offset="0%" stop-color="#f9fb15"/><stop offset="6.2%" stop-color="#f5e327"/><stop offset="12.5%" stop-color="#feca33"/><stop offset="18.8%" stop-color="#f1ba37"/><stop offset="25%" stop-color="#c8c129"/><stop offset="31.2%" stop-color="#94ca4a"/><stop offset="37.5%" stop-color="#5ccc76"/><stop offset="43.8%" stop-color="#34c79c"/><stop offset="50%" stop-color="#12beb9"/><stop offset="56.2%" stop-color="#0cb3d3"/><stop offset="62.5%" stop-color="#21a3e3"/><stop offset="68.8%" stop-color="#2c90f0"/><stop offset="75%" stop-color="#347afd"/><stop offset="81.2%" stop-color="#4562fc"/><stop offset="87.5%" stop-color="#484cef"/><stop offset="93.8%" stop-color="#4536d5"/><stop offset="100%" stop-color="#3e26a8"/></linearGradient>
<rect x="191.3" y="389.7" width="8.6" height="141.9" fill="url(#cb3)" stroke="#444" stroke-width="0.4"/>
<line x1="198.7" y1="527.5" x2="199.9" y2="527.5" stroke="#333" stroke-width="0.4" />
<text transform="translate(202.2 529.1) scale(0.79 1)" font-size="5.9" text-anchor="start" >0</text>
<line x1="198.7" y1="486.1" x2="199.9" y2="486.1" stroke="#333" stroke-width="0.4" />
<text transform="translate(202.2 487.7) scale(0.79 1)" font-size="5.9" text-anchor="start" >3</text>
<line x1="198.7" y1="444.8" x2="199.9" y2="444.8" stroke="#333" stroke-width="0.4" />
<text transform="translate(202.2 446.4) scale(0.79 1)" font-size="5.9" text-anchor="start" >6</text>
<line x1="198.7" y1="403.5" x2="199.9" y2="403.5" stroke="#333" stroke-width="0.4" />
<text transform="translate(202.2 405.1) scale(0.79 1)" font-size="5.9" text-anchor="start" >9</text>
<rect x="257.1" y="10" width="180.2" height="142.3" fill="#fff"/>
<line x1="257.1" y1="138.1" x2="437.3" y2="138.1" stroke="#dedede" stroke-width="0.5" />
<line x1="257.1" y1="123.8" x2="437.3" y2="123.8" stroke="#dedede" stroke-width="0.5" />
<line x1="257.1" y1="109.6" x2="437.3" y2="109.6" stroke="#dedede" stroke-width="0.5" />
<line x1="257.1" y1="95.4" x2="437.3" y2="95.4" stroke="#dedede" stroke-width="0.5" />
<line x1="257.1" y1="81.2" x2="437.3" y2="81.2" stroke="#dedede" stroke-width="0.5" />
<line x1="257.1" y1="66.9" x2="437.3" y2="66.9" stroke="#dedede" stroke-width="0.5" />
<line x1="257.1" y1="52.7" x2="437.3" y2="52.7" stroke="#dedede" stroke-width="0.5" />
<line x1="257.1" y1="38.5" x2="437.3" y2="38.5" stroke="#dedede" stroke-width="0.5" />
<line x1="257.1" y1="24.2" x2="437.3" y2="24.2" stroke="#dedede" stroke-width="0.5" />
<g fill="#52a9cf" fill-opacity="0.9" stroke="#234" stroke-width="0.4" stroke-opacity="0.8"><rect x="265.2" y="148.03" width="12.6" height="4.27"/><rect x="277.8" y="69.77" width="12.6" height="82.53"/><rect x="290.4" y="42.73" width="12.6" height="109.57"/><rect x="303" y="22.81" width="12.6" height="129.49"/><rect x="315.6" y="58.38" width="12.6" height="93.92"/><rect x="328.2" y="82.57" width="12.6" height="69.73"/><rect x="340.8" y="123.84" width="12.6" height="28.46"/><rect x="353.4" y="125.26" width="12.6" height="27.04"/><rect x="366" y="140.92" width="12.6" height="11.38"/><rect x="378.6" y="145.19" width="12.6" height="7.12"/><rect x="391.2" y="150.02" width="12.6" height="2.28"/><rect x="403.8" y="151.16" width="12.6" height="1.14"/><rect x="416.4" y="151.16" width="12.6" height="1.14"/></g>
<text x="254.7" y="154.5" font-size="5.3" text-anchor="end" >0</text>
<text x="254.7" y="140.3" font-size="5.3" text-anchor="end" >0.05</text>
<text x="254.7" y="126" font-size="5.3" text-anchor="end" >0.1</text>
<text x="254.7" y="111.8" font-size="5.3" text-anchor="end" >0.15</text>
<text x="254.7" y="97.6" font-size="5.3" text-anchor="end" >0.2</text>
<text x="254.7" y="83.4" font-size="5.3" text-anchor="end" >0.25</text>
<text x="254.7" y="69.1" font-size="5.3" text-anchor="end" >0.3</text>
<text x="254.7" y="54.9" font-size="5.3" text-anchor="end" >0.35</text>
<text x="254.7" y="40.7" font-size="5.3" text-anchor="end" >0.4</text>
<text x="254.7" y="26.4" font-size="5.3" text-anchor="end" >0.45</text>
<text x="254.7" y="12.2" font-size="5.3" text-anchor="end" >0.5</text>
<text transform="translate(265.2 159.1) scale(0.92 1)" font-size="5.3" text-anchor="middle" >-2</text>
<text transform="translate(290.4 159.1) scale(0.92 1)" font-size="5.3" text-anchor="middle" >-1</text>
<text transform="translate(315.6 159.1) scale(0.92 1)" font-size="5.3" text-anchor="middle" >0</text>
<text transform="translate(340.8 159.1) scale(0.92 1)" font-size="5.3" text-anchor="middle" >1</text>
<text transform="translate(366 159.1) scale(0.92 1)" font-size="5.3" text-anchor="middle" >2</text>
<text transform="translate(391.2 159.1) scale(0.92 1)" font-size="5.3" text-anchor="middle" >3</text>
<text transform="translate(416.4 159.1) scale(0.92 1)" font-size="5.3" text-anchor="middle" >4</text>
<path d="M257.1 152.3h2M437.3 152.3h-2M257.1 138.1h2M437.3 138.1h-2M257.1 123.8h2M437.3 123.8h-2M257.1 109.6h2M437.3 109.6h-2M257.1 95.4h2M437.3 95.4h-2M257.1 81.2h2M437.3 81.2h-2M257.1 66.9h2M437.3 66.9h-2M257.1 52.7h2M437.3 52.7h-2M257.1 38.5h2M437.3 38.5h-2M257.1 24.2h2M437.3 24.2h-2M257.1 10h2M437.3 10h-2M265.2 152.3v-2M265.2 10v2M290.4 152.3v-2M290.4 10v2M315.6 152.3v-2M315.6 10v2M340.8 152.3v-2M340.8 10v2M366 152.3v-2M366 10v2M391.2 152.3v-2M391.2 10v2M416.4 152.3v-2M416.4 10v2" stroke="#222" stroke-width="0.8" fill="none"/>
<rect x="257.1" y="10" width="180.2" height="142.3" fill="none" stroke="#3a3a3a" stroke-width="1.1"/>
<g class="b"><text transform="translate(347.2 166.8) scale(0.88 1)" font-size="7.5" text-anchor="middle" >Roughness</text></g>
<g class="b"><text x="347.2" y="8.8" font-size="6.9" text-anchor="middle" >(c2)</text></g>
<g class="b"><text transform="translate(242.1 80.6) rotate(-90) scale(1 1)" font-size="6.6" text-anchor="middle">Percentage/%</text></g>
<rect x="257.1" y="200" width="180.2" height="141.9" fill="#fff"/>
<line x1="257.1" y1="327.7" x2="437.3" y2="327.7" stroke="#dedede" stroke-width="0.5" />
<line x1="257.1" y1="313.5" x2="437.3" y2="313.5" stroke="#dedede" stroke-width="0.5" />
<line x1="257.1" y1="299.3" x2="437.3" y2="299.3" stroke="#dedede" stroke-width="0.5" />
<line x1="257.1" y1="285.1" x2="437.3" y2="285.1" stroke="#dedede" stroke-width="0.5" />
<line x1="257.1" y1="270.9" x2="437.3" y2="270.9" stroke="#dedede" stroke-width="0.5" />
<line x1="257.1" y1="256.8" x2="437.3" y2="256.8" stroke="#dedede" stroke-width="0.5" />
<line x1="257.1" y1="242.6" x2="437.3" y2="242.6" stroke="#dedede" stroke-width="0.5" />
<line x1="257.1" y1="228.4" x2="437.3" y2="228.4" stroke="#dedede" stroke-width="0.5" />
<line x1="257.1" y1="214.2" x2="437.3" y2="214.2" stroke="#dedede" stroke-width="0.5" />
<g fill="#52a9cf" fill-opacity="0.9" stroke="#234" stroke-width="0.4" stroke-opacity="0.8"><rect x="265.3" y="340.48" width="11.7" height="1.42"/><rect x="288.7" y="340.76" width="11.7" height="1.14"/><rect x="300.4" y="336.22" width="11.7" height="5.68"/><rect x="312.1" y="333.39" width="11.7" height="8.51"/><rect x="323.8" y="331.97" width="11.7" height="9.93"/><rect x="335.5" y="323.45" width="11.7" height="18.45"/><rect x="347.2" y="310.68" width="11.7" height="31.22"/><rect x="358.9" y="285.14" width="11.7" height="56.76"/><rect x="370.6" y="229.80" width="11.7" height="112.10"/><rect x="382.3" y="207.09" width="11.7" height="134.80"/><rect x="394" y="222.70" width="11.7" height="119.20"/><rect x="405.7" y="286.56" width="11.7" height="55.34"/><rect x="417.4" y="329.13" width="11.7" height="12.77"/></g>
<text x="254.7" y="344.1" font-size="5.3" text-anchor="end" >0</text>
<text x="254.7" y="329.9" font-size="5.3" text-anchor="end" >0.05</text>
<text x="254.7" y="315.7" font-size="5.3" text-anchor="end" >0.1</text>
<text x="254.7" y="301.5" font-size="5.3" text-anchor="end" >0.15</text>
<text x="254.7" y="287.3" font-size="5.3" text-anchor="end" >0.2</text>
<text x="254.7" y="273.1" font-size="5.3" text-anchor="end" >0.25</text>
<text x="254.7" y="259" font-size="5.3" text-anchor="end" >0.3</text>
<text x="254.7" y="244.8" font-size="5.3" text-anchor="end" >0.35</text>
<text x="254.7" y="230.6" font-size="5.3" text-anchor="end" >0.4</text>
<text x="254.7" y="216.4" font-size="5.3" text-anchor="end" >0.45</text>
<text x="254.7" y="202.2" font-size="5.3" text-anchor="end" >0.5</text>
<text transform="translate(265.3 348.9) scale(0.92 1)" font-size="5.3" text-anchor="middle" >-5</text>
<text transform="translate(288.7 348.9) scale(0.92 1)" font-size="5.3" text-anchor="middle" >-4</text>
<text transform="translate(312.1 348.9) scale(0.92 1)" font-size="5.3" text-anchor="middle" >-3</text>
<text transform="translate(335.5 348.9) scale(0.92 1)" font-size="5.3" text-anchor="middle" >-2</text>
<text transform="translate(358.9 348.9) scale(0.92 1)" font-size="5.3" text-anchor="middle" >-1</text>
<text transform="translate(382.3 348.9) scale(0.92 1)" font-size="5.3" text-anchor="middle" >0</text>
<text transform="translate(405.7 348.9) scale(0.92 1)" font-size="5.3" text-anchor="middle" >1</text>
<text transform="translate(429.1 348.9) scale(0.92 1)" font-size="5.3" text-anchor="middle" >2</text>
<path d="M257.1 341.9h2M437.3 341.9h-2M257.1 327.7h2M437.3 327.7h-2M257.1 313.5h2M437.3 313.5h-2M257.1 299.3h2M437.3 299.3h-2M257.1 285.1h2M437.3 285.1h-2M257.1 270.9h2M437.3 270.9h-2M257.1 256.8h2M437.3 256.8h-2M257.1 242.6h2M437.3 242.6h-2M257.1 228.4h2M437.3 228.4h-2M257.1 214.2h2M437.3 214.2h-2M257.1 200h2M437.3 200h-2M265.3 341.9v-2M265.3 200v2M288.7 341.9v-2M288.7 200v2M312.1 341.9v-2M312.1 200v2M335.5 341.9v-2M335.5 200v2M358.9 341.9v-2M358.9 200v2M382.3 341.9v-2M382.3 200v2M405.7 341.9v-2M405.7 200v2M429.1 341.9v-2M429.1 200v2" stroke="#222" stroke-width="0.8" fill="none"/>
<rect x="257.1" y="200" width="180.2" height="141.9" fill="none" stroke="#3a3a3a" stroke-width="1.1"/>
<g class="b"><text transform="translate(347.2 357.6) scale(0.88 1)" font-size="7.5" text-anchor="middle" >Differential Entropy</text></g>
<g class="b"><text x="347.2" y="198.8" font-size="6.9" text-anchor="middle" >(d2)</text></g>
<g class="b"><text transform="translate(242.1 270.3) rotate(-90) scale(1 1)" font-size="6.6" text-anchor="middle">Percentage/%</text></g>
<rect x="257.1" y="390" width="180.2" height="141.9" fill="#fff"/>
<line x1="257.1" y1="516.1" x2="437.3" y2="516.1" stroke="#dedede" stroke-width="0.5" />
<line x1="257.1" y1="500.4" x2="437.3" y2="500.4" stroke="#dedede" stroke-width="0.5" />
<line x1="257.1" y1="484.6" x2="437.3" y2="484.6" stroke="#dedede" stroke-width="0.5" />
<line x1="257.1" y1="468.8" x2="437.3" y2="468.8" stroke="#dedede" stroke-width="0.5" />
<line x1="257.1" y1="453.1" x2="437.3" y2="453.1" stroke="#dedede" stroke-width="0.5" />
<line x1="257.1" y1="437.3" x2="437.3" y2="437.3" stroke="#dedede" stroke-width="0.5" />
<line x1="257.1" y1="421.5" x2="437.3" y2="421.5" stroke="#dedede" stroke-width="0.5" />
<line x1="257.1" y1="405.8" x2="437.3" y2="405.8" stroke="#dedede" stroke-width="0.5" />
<g fill="#52a9cf" fill-opacity="0.9" stroke="#234" stroke-width="0.4" stroke-opacity="0.8"><rect x="265.3" y="531.58" width="7.8" height="0.32"/><rect x="320" y="531.43" width="7.8" height="0.47"/><rect x="382.4" y="528.35" width="7.8" height="3.55"/><rect x="390.3" y="531.11" width="7.8" height="0.79"/><rect x="398.1" y="529.53" width="7.8" height="2.36"/><rect x="405.9" y="525.59" width="7.8" height="6.31"/><rect x="413.7" y="521.65" width="7.8" height="10.25"/><rect x="421.5" y="401.83" width="7.8" height="130.07"/></g>
<text x="254.7" y="534.1" font-size="5.3" text-anchor="end" >0</text>
<text x="254.7" y="518.3" font-size="5.3" text-anchor="end" >0.2</text>
<text x="254.7" y="502.6" font-size="5.3" text-anchor="end" >0.4</text>
<text x="254.7" y="486.8" font-size="5.3" text-anchor="end" >0.6</text>
<text x="254.7" y="471" font-size="5.3" text-anchor="end" >0.8</text>
<text x="254.7" y="455.3" font-size="5.3" text-anchor="end" >1</text>
<text x="254.7" y="439.5" font-size="5.3" text-anchor="end" >1.2</text>
<text x="254.7" y="423.7" font-size="5.3" text-anchor="end" >1.4</text>
<text x="254.7" y="408" font-size="5.3" text-anchor="end" >1.6</text>
<text x="254.7" y="392.2" font-size="5.3" text-anchor="end" >1.8</text>
<text transform="translate(265.3 538.9) scale(0.92 1)" font-size="5.3" text-anchor="middle" >-10</text>
<text transform="translate(296.5 538.9) scale(0.92 1)" font-size="5.3" text-anchor="middle" >-8</text>
<text transform="translate(327.8 538.9) scale(0.92 1)" font-size="5.3" text-anchor="middle" >-6</text>
<text transform="translate(359 538.9) scale(0.92 1)" font-size="5.3" text-anchor="middle" >-4</text>
<text transform="translate(390.3 538.9) scale(0.92 1)" font-size="5.3" text-anchor="middle" >-2</text>
<text transform="translate(421.5 538.9) scale(0.92 1)" font-size="5.3" text-anchor="middle" >0</text>
<path d="M257.1 531.9h2M437.3 531.9h-2M257.1 516.1h2M437.3 516.1h-2M257.1 500.4h2M437.3 500.4h-2M257.1 484.6h2M437.3 484.6h-2M257.1 468.8h2M437.3 468.8h-2M257.1 453.1h2M437.3 453.1h-2M257.1 437.3h2M437.3 437.3h-2M257.1 421.5h2M437.3 421.5h-2M257.1 405.8h2M437.3 405.8h-2M257.1 390h2M437.3 390h-2M265.3 531.9v-2M265.3 390v2M296.5 531.9v-2M296.5 390v2M327.8 531.9v-2M327.8 390v2M359 531.9v-2M359 390v2M390.3 531.9v-2M390.3 390v2M421.5 531.9v-2M421.5 390v2" stroke="#222" stroke-width="0.8" fill="none"/>
<rect x="257.1" y="390" width="180.2" height="141.9" fill="none" stroke="#3a3a3a" stroke-width="1.1"/>
<g class="b"><text transform="translate(347.2 547.6) scale(0.88 1)" font-size="7.5" text-anchor="middle" >Fractal dimension</text></g>
<g class="b"><text x="347.2" y="388.8" font-size="6.9" text-anchor="middle" >(e2)</text></g>
<g class="b"><text transform="translate(245.1 460.3) rotate(-90) scale(1 1)" font-size="6.6" text-anchor="middle">Percentage/%</text></g></svg></body></html>
